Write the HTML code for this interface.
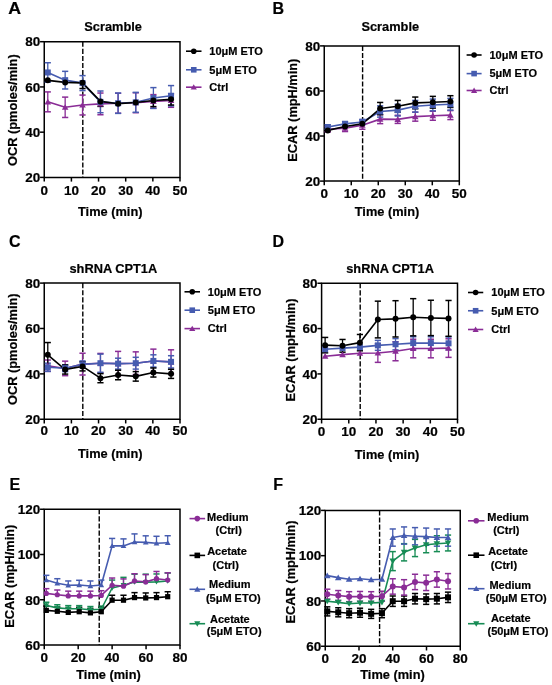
<!DOCTYPE html>
<html><head><meta charset="utf-8"><style>
html,body{margin:0;padding:0;background:#fff;width:552px;height:685px;overflow:hidden}
svg{display:block;position:absolute;left:0;top:0;will-change:transform}
text{font-family:"Liberation Sans", sans-serif;font-weight:bold;fill:#000;stroke:#000;stroke-width:0.2px}
</style></head><body>
<svg width="552" height="685" viewBox="0 0 552 685">
<rect width="552" height="685" fill="#fff"/>
<path d="M44.25,41.70H180.00V177.40H44.25Z" fill="none" stroke="#000000" stroke-width="1.5"/>
<line x1="40.05" y1="177.40" x2="44.25" y2="177.40" stroke="#000000" stroke-width="1.5" />
<text x="40.25" y="182.15" font-size="13.5" text-anchor="end" >20</text>
<line x1="40.05" y1="132.17" x2="44.25" y2="132.17" stroke="#000000" stroke-width="1.5" />
<text x="40.25" y="136.92" font-size="13.5" text-anchor="end" >40</text>
<line x1="40.05" y1="86.93" x2="44.25" y2="86.93" stroke="#000000" stroke-width="1.5" />
<text x="40.25" y="91.68" font-size="13.5" text-anchor="end" >60</text>
<line x1="40.05" y1="41.70" x2="44.25" y2="41.70" stroke="#000000" stroke-width="1.5" />
<text x="40.25" y="46.45" font-size="13.5" text-anchor="end" >80</text>
<line x1="44.25" y1="177.40" x2="44.25" y2="181.60" stroke="#000000" stroke-width="1.5" />
<text x="44.25" y="195.00" font-size="13.5" text-anchor="middle" >0</text>
<line x1="71.40" y1="177.40" x2="71.40" y2="181.60" stroke="#000000" stroke-width="1.5" />
<text x="71.40" y="195.00" font-size="13.5" text-anchor="middle" >10</text>
<line x1="98.55" y1="177.40" x2="98.55" y2="181.60" stroke="#000000" stroke-width="1.5" />
<text x="98.55" y="195.00" font-size="13.5" text-anchor="middle" >20</text>
<line x1="125.70" y1="177.40" x2="125.70" y2="181.60" stroke="#000000" stroke-width="1.5" />
<text x="125.70" y="195.00" font-size="13.5" text-anchor="middle" >30</text>
<line x1="152.85" y1="177.40" x2="152.85" y2="181.60" stroke="#000000" stroke-width="1.5" />
<text x="152.85" y="195.00" font-size="13.5" text-anchor="middle" >40</text>
<line x1="180.00" y1="177.40" x2="180.00" y2="181.60" stroke="#000000" stroke-width="1.5" />
<text x="180.00" y="195.00" font-size="13.5" text-anchor="middle" >50</text>
<line x1="82.80" y1="41.70" x2="82.80" y2="177.40" stroke="#000000" stroke-width="1.4" stroke-dasharray="5.1 2.0"/>
<line x1="47.78" y1="91.91" x2="47.78" y2="111.81" stroke="#8a2c96" stroke-width="1.3" />
<line x1="44.68" y1="91.91" x2="50.88" y2="91.91" stroke="#8a2c96" stroke-width="1.5" />
<line x1="44.68" y1="111.81" x2="50.88" y2="111.81" stroke="#8a2c96" stroke-width="1.5" />
<line x1="65.16" y1="97.11" x2="65.16" y2="117.47" stroke="#8a2c96" stroke-width="1.3" />
<line x1="62.06" y1="97.11" x2="68.26" y2="97.11" stroke="#8a2c96" stroke-width="1.5" />
<line x1="62.06" y1="117.47" x2="68.26" y2="117.47" stroke="#8a2c96" stroke-width="1.5" />
<line x1="82.53" y1="95.08" x2="82.53" y2="114.98" stroke="#8a2c96" stroke-width="1.3" />
<line x1="79.43" y1="95.08" x2="85.63" y2="95.08" stroke="#8a2c96" stroke-width="1.5" />
<line x1="79.43" y1="114.98" x2="85.63" y2="114.98" stroke="#8a2c96" stroke-width="1.5" />
<line x1="100.45" y1="93.04" x2="100.45" y2="114.75" stroke="#8a2c96" stroke-width="1.3" />
<line x1="97.35" y1="93.04" x2="103.55" y2="93.04" stroke="#8a2c96" stroke-width="1.5" />
<line x1="97.35" y1="114.75" x2="103.55" y2="114.75" stroke="#8a2c96" stroke-width="1.5" />
<line x1="118.10" y1="93.27" x2="118.10" y2="113.17" stroke="#8a2c96" stroke-width="1.3" />
<line x1="115.00" y1="93.27" x2="121.20" y2="93.27" stroke="#8a2c96" stroke-width="1.5" />
<line x1="115.00" y1="113.17" x2="121.20" y2="113.17" stroke="#8a2c96" stroke-width="1.5" />
<line x1="135.75" y1="92.81" x2="135.75" y2="112.72" stroke="#8a2c96" stroke-width="1.3" />
<line x1="132.65" y1="92.81" x2="138.85" y2="92.81" stroke="#8a2c96" stroke-width="1.5" />
<line x1="132.65" y1="112.72" x2="138.85" y2="112.72" stroke="#8a2c96" stroke-width="1.5" />
<line x1="153.39" y1="94.62" x2="153.39" y2="108.19" stroke="#8a2c96" stroke-width="1.3" />
<line x1="150.29" y1="94.62" x2="156.49" y2="94.62" stroke="#8a2c96" stroke-width="1.5" />
<line x1="150.29" y1="108.19" x2="156.49" y2="108.19" stroke="#8a2c96" stroke-width="1.5" />
<line x1="171.04" y1="93.72" x2="171.04" y2="107.29" stroke="#8a2c96" stroke-width="1.3" />
<line x1="167.94" y1="93.72" x2="174.14" y2="93.72" stroke="#8a2c96" stroke-width="1.5" />
<line x1="167.94" y1="107.29" x2="174.14" y2="107.29" stroke="#8a2c96" stroke-width="1.5" />
<line x1="47.78" y1="62.73" x2="47.78" y2="82.18" stroke="#465cb0" stroke-width="1.3" />
<line x1="44.68" y1="62.73" x2="50.88" y2="62.73" stroke="#465cb0" stroke-width="1.5" />
<line x1="44.68" y1="82.18" x2="50.88" y2="82.18" stroke="#465cb0" stroke-width="1.5" />
<line x1="65.16" y1="71.33" x2="65.16" y2="88.97" stroke="#465cb0" stroke-width="1.3" />
<line x1="62.06" y1="71.33" x2="68.26" y2="71.33" stroke="#465cb0" stroke-width="1.5" />
<line x1="62.06" y1="88.97" x2="68.26" y2="88.97" stroke="#465cb0" stroke-width="1.5" />
<line x1="82.53" y1="75.63" x2="82.53" y2="90.55" stroke="#465cb0" stroke-width="1.3" />
<line x1="79.43" y1="75.63" x2="85.63" y2="75.63" stroke="#465cb0" stroke-width="1.5" />
<line x1="79.43" y1="90.55" x2="85.63" y2="90.55" stroke="#465cb0" stroke-width="1.5" />
<line x1="100.45" y1="91.00" x2="100.45" y2="112.72" stroke="#465cb0" stroke-width="1.3" />
<line x1="97.35" y1="91.00" x2="103.55" y2="91.00" stroke="#465cb0" stroke-width="1.5" />
<line x1="97.35" y1="112.72" x2="103.55" y2="112.72" stroke="#465cb0" stroke-width="1.5" />
<line x1="118.10" y1="93.04" x2="118.10" y2="113.39" stroke="#465cb0" stroke-width="1.3" />
<line x1="115.00" y1="93.04" x2="121.20" y2="93.04" stroke="#465cb0" stroke-width="1.5" />
<line x1="115.00" y1="113.39" x2="121.20" y2="113.39" stroke="#465cb0" stroke-width="1.5" />
<line x1="135.75" y1="92.36" x2="135.75" y2="112.26" stroke="#465cb0" stroke-width="1.3" />
<line x1="132.65" y1="92.36" x2="138.85" y2="92.36" stroke="#465cb0" stroke-width="1.5" />
<line x1="132.65" y1="112.26" x2="138.85" y2="112.26" stroke="#465cb0" stroke-width="1.5" />
<line x1="153.39" y1="87.61" x2="153.39" y2="108.42" stroke="#465cb0" stroke-width="1.3" />
<line x1="150.29" y1="87.61" x2="156.49" y2="87.61" stroke="#465cb0" stroke-width="1.5" />
<line x1="150.29" y1="108.42" x2="156.49" y2="108.42" stroke="#465cb0" stroke-width="1.5" />
<line x1="171.04" y1="85.58" x2="171.04" y2="105.93" stroke="#465cb0" stroke-width="1.3" />
<line x1="167.94" y1="85.58" x2="174.14" y2="85.58" stroke="#465cb0" stroke-width="1.5" />
<line x1="167.94" y1="105.93" x2="174.14" y2="105.93" stroke="#465cb0" stroke-width="1.5" />
<line x1="82.53" y1="82.86" x2="82.53" y2="88.52" stroke="#000000" stroke-width="1.3" />
<line x1="79.43" y1="88.52" x2="85.63" y2="88.52" stroke="#000000" stroke-width="1.5" />
<line x1="100.45" y1="101.41" x2="100.45" y2="106.38" stroke="#000000" stroke-width="1.3" />
<line x1="97.35" y1="106.38" x2="103.55" y2="106.38" stroke="#000000" stroke-width="1.5" />
<line x1="153.39" y1="100.50" x2="153.39" y2="106.61" stroke="#000000" stroke-width="1.3" />
<line x1="150.29" y1="106.61" x2="156.49" y2="106.61" stroke="#000000" stroke-width="1.5" />
<line x1="171.04" y1="99.37" x2="171.04" y2="105.03" stroke="#000000" stroke-width="1.3" />
<line x1="167.94" y1="105.03" x2="174.14" y2="105.03" stroke="#000000" stroke-width="1.5" />
<path d="M47.78,101.86 L65.16,107.29 L82.53,105.03 L100.45,103.90 L118.10,103.22 L135.75,102.77 L153.39,101.41 L171.04,100.50" fill="none" stroke="#8a2c96" stroke-width="1.6" stroke-linejoin="round"/>
<path d="M47.78,72.46 L65.16,80.15 L82.53,83.09 L100.45,101.86 L118.10,103.22 L135.75,102.31 L153.39,98.02 L171.04,95.75" fill="none" stroke="#465cb0" stroke-width="1.6" stroke-linejoin="round"/>
<path d="M47.78,80.37 L65.16,82.41 L82.53,82.86 L100.45,101.41 L118.10,103.67 L135.75,102.54 L153.39,100.50 L171.04,99.37" fill="none" stroke="#000000" stroke-width="1.6" stroke-linejoin="round"/>
<path d="M47.78,98.71L51.08,104.41L44.48,104.41Z" fill="#8a2c96"/>
<path d="M65.16,104.14L68.46,109.84L61.86,109.84Z" fill="#8a2c96"/>
<path d="M82.53,101.88L85.83,107.58L79.23,107.58Z" fill="#8a2c96"/>
<path d="M100.45,100.75L103.75,106.45L97.15,106.45Z" fill="#8a2c96"/>
<path d="M118.10,100.07L121.40,105.77L114.80,105.77Z" fill="#8a2c96"/>
<path d="M135.75,99.61L139.05,105.31L132.45,105.31Z" fill="#8a2c96"/>
<path d="M153.39,98.26L156.69,103.96L150.09,103.96Z" fill="#8a2c96"/>
<path d="M171.04,97.35L174.34,103.05L167.74,103.05Z" fill="#8a2c96"/>
<rect x="44.78" y="69.46" width="6.00" height="6.00" fill="#465cb0"/>
<rect x="62.16" y="77.15" width="6.00" height="6.00" fill="#465cb0"/>
<rect x="79.53" y="80.09" width="6.00" height="6.00" fill="#465cb0"/>
<rect x="97.45" y="98.86" width="6.00" height="6.00" fill="#465cb0"/>
<rect x="115.10" y="100.22" width="6.00" height="6.00" fill="#465cb0"/>
<rect x="132.75" y="99.31" width="6.00" height="6.00" fill="#465cb0"/>
<rect x="150.39" y="95.02" width="6.00" height="6.00" fill="#465cb0"/>
<rect x="168.04" y="92.75" width="6.00" height="6.00" fill="#465cb0"/>
<circle cx="47.78" cy="80.37" r="3.00" fill="#000000"/>
<circle cx="65.16" cy="82.41" r="3.00" fill="#000000"/>
<circle cx="82.53" cy="82.86" r="3.00" fill="#000000"/>
<circle cx="100.45" cy="101.41" r="3.00" fill="#000000"/>
<circle cx="118.10" cy="103.67" r="3.00" fill="#000000"/>
<circle cx="135.75" cy="102.54" r="3.00" fill="#000000"/>
<circle cx="153.39" cy="100.50" r="3.00" fill="#000000"/>
<circle cx="171.04" cy="99.37" r="3.00" fill="#000000"/>
<text x="113.10" y="30.50" font-size="12.8" text-anchor="middle" >Scramble</text>
<text transform="translate(17.30,110.15) rotate(-90)" font-size="12.8" text-anchor="middle">OCR (pmoles/min)</text>
<text x="110.25" y="216.25" font-size="12.8" text-anchor="middle" >Time (min)</text>
<text transform="translate(8.20,13.75) scale(1.11,1)" font-size="16">A</text>
<line x1="186.00" y1="51.20" x2="201.50" y2="51.20" stroke="#000000" stroke-width="1.6" />
<circle cx="193.75" cy="51.20" r="2.80" fill="#000000"/>
<text x="209.30" y="55.00" font-size="11" text-anchor="start" >10&#956;M ETO</text>
<line x1="186.00" y1="69.80" x2="201.50" y2="69.80" stroke="#465cb0" stroke-width="1.6" />
<rect x="190.95" y="67.00" width="5.60" height="5.60" fill="#465cb0"/>
<text x="209.30" y="73.60" font-size="11" text-anchor="start" >5&#956;M ETO</text>
<line x1="186.00" y1="87.20" x2="201.50" y2="87.20" stroke="#8a2c96" stroke-width="1.6" />
<path d="M193.75,84.26L196.83,89.58L190.67,89.58Z" fill="#8a2c96"/>
<text x="209.30" y="91.00" font-size="11" text-anchor="start" >Ctrl</text>
<path d="M324.25,45.90H459.30V181.10H324.25Z" fill="none" stroke="#000000" stroke-width="1.5"/>
<line x1="320.05" y1="181.10" x2="324.25" y2="181.10" stroke="#000000" stroke-width="1.5" />
<text x="320.25" y="185.85" font-size="13.5" text-anchor="end" >20</text>
<line x1="320.05" y1="136.03" x2="324.25" y2="136.03" stroke="#000000" stroke-width="1.5" />
<text x="320.25" y="140.78" font-size="13.5" text-anchor="end" >40</text>
<line x1="320.05" y1="90.97" x2="324.25" y2="90.97" stroke="#000000" stroke-width="1.5" />
<text x="320.25" y="95.72" font-size="13.5" text-anchor="end" >60</text>
<line x1="320.05" y1="45.90" x2="324.25" y2="45.90" stroke="#000000" stroke-width="1.5" />
<text x="320.25" y="50.65" font-size="13.5" text-anchor="end" >80</text>
<line x1="324.25" y1="181.10" x2="324.25" y2="185.30" stroke="#000000" stroke-width="1.5" />
<text x="324.25" y="198.30" font-size="13.5" text-anchor="middle" >0</text>
<line x1="351.26" y1="181.10" x2="351.26" y2="185.30" stroke="#000000" stroke-width="1.5" />
<text x="351.26" y="198.30" font-size="13.5" text-anchor="middle" >10</text>
<line x1="378.27" y1="181.10" x2="378.27" y2="185.30" stroke="#000000" stroke-width="1.5" />
<text x="378.27" y="198.30" font-size="13.5" text-anchor="middle" >20</text>
<line x1="405.28" y1="181.10" x2="405.28" y2="185.30" stroke="#000000" stroke-width="1.5" />
<text x="405.28" y="198.30" font-size="13.5" text-anchor="middle" >30</text>
<line x1="432.29" y1="181.10" x2="432.29" y2="185.30" stroke="#000000" stroke-width="1.5" />
<text x="432.29" y="198.30" font-size="13.5" text-anchor="middle" >40</text>
<line x1="459.30" y1="181.10" x2="459.30" y2="185.30" stroke="#000000" stroke-width="1.5" />
<text x="459.30" y="198.30" font-size="13.5" text-anchor="middle" >50</text>
<line x1="362.60" y1="45.90" x2="362.60" y2="181.10" stroke="#000000" stroke-width="1.4" stroke-dasharray="5.1 2.0"/>
<line x1="327.76" y1="126.57" x2="327.76" y2="131.98" stroke="#8a2c96" stroke-width="1.3" />
<line x1="324.66" y1="126.57" x2="330.86" y2="126.57" stroke="#8a2c96" stroke-width="1.5" />
<line x1="324.66" y1="131.98" x2="330.86" y2="131.98" stroke="#8a2c96" stroke-width="1.5" />
<line x1="345.05" y1="124.77" x2="345.05" y2="131.53" stroke="#8a2c96" stroke-width="1.3" />
<line x1="341.95" y1="124.77" x2="348.15" y2="124.77" stroke="#8a2c96" stroke-width="1.5" />
<line x1="341.95" y1="131.53" x2="348.15" y2="131.53" stroke="#8a2c96" stroke-width="1.5" />
<line x1="362.33" y1="121.16" x2="362.33" y2="129.27" stroke="#8a2c96" stroke-width="1.3" />
<line x1="359.23" y1="121.16" x2="365.43" y2="121.16" stroke="#8a2c96" stroke-width="1.5" />
<line x1="359.23" y1="129.27" x2="365.43" y2="129.27" stroke="#8a2c96" stroke-width="1.5" />
<line x1="380.16" y1="114.63" x2="380.16" y2="123.64" stroke="#8a2c96" stroke-width="1.3" />
<line x1="377.06" y1="114.63" x2="383.26" y2="114.63" stroke="#8a2c96" stroke-width="1.5" />
<line x1="377.06" y1="123.64" x2="383.26" y2="123.64" stroke="#8a2c96" stroke-width="1.5" />
<line x1="397.72" y1="115.30" x2="397.72" y2="123.41" stroke="#8a2c96" stroke-width="1.3" />
<line x1="394.62" y1="115.30" x2="400.82" y2="115.30" stroke="#8a2c96" stroke-width="1.5" />
<line x1="394.62" y1="123.41" x2="400.82" y2="123.41" stroke="#8a2c96" stroke-width="1.5" />
<line x1="415.27" y1="112.15" x2="415.27" y2="121.16" stroke="#8a2c96" stroke-width="1.3" />
<line x1="412.17" y1="112.15" x2="418.37" y2="112.15" stroke="#8a2c96" stroke-width="1.5" />
<line x1="412.17" y1="121.16" x2="418.37" y2="121.16" stroke="#8a2c96" stroke-width="1.5" />
<line x1="432.83" y1="111.25" x2="432.83" y2="120.26" stroke="#8a2c96" stroke-width="1.3" />
<line x1="429.73" y1="111.25" x2="435.93" y2="111.25" stroke="#8a2c96" stroke-width="1.5" />
<line x1="429.73" y1="120.26" x2="435.93" y2="120.26" stroke="#8a2c96" stroke-width="1.5" />
<line x1="450.39" y1="110.57" x2="450.39" y2="119.58" stroke="#8a2c96" stroke-width="1.3" />
<line x1="447.29" y1="110.57" x2="453.49" y2="110.57" stroke="#8a2c96" stroke-width="1.5" />
<line x1="447.29" y1="119.58" x2="453.49" y2="119.58" stroke="#8a2c96" stroke-width="1.5" />
<line x1="327.76" y1="124.77" x2="327.76" y2="129.27" stroke="#465cb0" stroke-width="1.3" />
<line x1="324.66" y1="124.77" x2="330.86" y2="124.77" stroke="#465cb0" stroke-width="1.5" />
<line x1="324.66" y1="129.27" x2="330.86" y2="129.27" stroke="#465cb0" stroke-width="1.5" />
<line x1="345.05" y1="121.61" x2="345.05" y2="126.12" stroke="#465cb0" stroke-width="1.3" />
<line x1="341.95" y1="121.61" x2="348.15" y2="121.61" stroke="#465cb0" stroke-width="1.5" />
<line x1="341.95" y1="126.12" x2="348.15" y2="126.12" stroke="#465cb0" stroke-width="1.5" />
<line x1="362.33" y1="119.36" x2="362.33" y2="124.77" stroke="#465cb0" stroke-width="1.3" />
<line x1="359.23" y1="119.36" x2="365.43" y2="119.36" stroke="#465cb0" stroke-width="1.5" />
<line x1="359.23" y1="124.77" x2="365.43" y2="124.77" stroke="#465cb0" stroke-width="1.5" />
<line x1="380.16" y1="105.84" x2="380.16" y2="117.11" stroke="#465cb0" stroke-width="1.3" />
<line x1="377.06" y1="105.84" x2="383.26" y2="105.84" stroke="#465cb0" stroke-width="1.5" />
<line x1="377.06" y1="117.11" x2="383.26" y2="117.11" stroke="#465cb0" stroke-width="1.5" />
<line x1="397.72" y1="104.26" x2="397.72" y2="115.98" stroke="#465cb0" stroke-width="1.3" />
<line x1="394.62" y1="104.26" x2="400.82" y2="104.26" stroke="#465cb0" stroke-width="1.5" />
<line x1="394.62" y1="115.98" x2="400.82" y2="115.98" stroke="#465cb0" stroke-width="1.5" />
<line x1="415.27" y1="100.43" x2="415.27" y2="112.15" stroke="#465cb0" stroke-width="1.3" />
<line x1="412.17" y1="100.43" x2="418.37" y2="100.43" stroke="#465cb0" stroke-width="1.5" />
<line x1="412.17" y1="112.15" x2="418.37" y2="112.15" stroke="#465cb0" stroke-width="1.5" />
<line x1="432.83" y1="99.08" x2="432.83" y2="110.80" stroke="#465cb0" stroke-width="1.3" />
<line x1="429.73" y1="99.08" x2="435.93" y2="99.08" stroke="#465cb0" stroke-width="1.5" />
<line x1="429.73" y1="110.80" x2="435.93" y2="110.80" stroke="#465cb0" stroke-width="1.5" />
<line x1="450.39" y1="98.40" x2="450.39" y2="110.12" stroke="#465cb0" stroke-width="1.3" />
<line x1="447.29" y1="98.40" x2="453.49" y2="98.40" stroke="#465cb0" stroke-width="1.5" />
<line x1="447.29" y1="110.12" x2="453.49" y2="110.12" stroke="#465cb0" stroke-width="1.5" />
<line x1="380.16" y1="102.46" x2="380.16" y2="114.63" stroke="#000000" stroke-width="1.3" />
<line x1="377.06" y1="102.46" x2="383.26" y2="102.46" stroke="#000000" stroke-width="1.5" />
<line x1="377.06" y1="114.63" x2="383.26" y2="114.63" stroke="#000000" stroke-width="1.5" />
<line x1="397.72" y1="100.43" x2="397.72" y2="112.15" stroke="#000000" stroke-width="1.3" />
<line x1="394.62" y1="100.43" x2="400.82" y2="100.43" stroke="#000000" stroke-width="1.5" />
<line x1="394.62" y1="112.15" x2="400.82" y2="112.15" stroke="#000000" stroke-width="1.5" />
<line x1="415.27" y1="97.05" x2="415.27" y2="108.77" stroke="#000000" stroke-width="1.3" />
<line x1="412.17" y1="97.05" x2="418.37" y2="97.05" stroke="#000000" stroke-width="1.5" />
<line x1="412.17" y1="108.77" x2="418.37" y2="108.77" stroke="#000000" stroke-width="1.5" />
<line x1="432.83" y1="96.37" x2="432.83" y2="108.09" stroke="#000000" stroke-width="1.3" />
<line x1="429.73" y1="96.37" x2="435.93" y2="96.37" stroke="#000000" stroke-width="1.5" />
<line x1="429.73" y1="108.09" x2="435.93" y2="108.09" stroke="#000000" stroke-width="1.5" />
<line x1="450.39" y1="95.70" x2="450.39" y2="107.42" stroke="#000000" stroke-width="1.3" />
<line x1="447.29" y1="95.70" x2="453.49" y2="95.70" stroke="#000000" stroke-width="1.5" />
<line x1="447.29" y1="107.42" x2="453.49" y2="107.42" stroke="#000000" stroke-width="1.5" />
<path d="M327.76,129.27 L345.05,128.15 L362.33,125.22 L380.16,119.13 L397.72,119.36 L415.27,116.65 L432.83,115.75 L450.39,115.08" fill="none" stroke="#8a2c96" stroke-width="1.6" stroke-linejoin="round"/>
<path d="M327.76,127.02 L345.05,123.87 L362.33,122.06 L380.16,111.47 L397.72,110.12 L415.27,106.29 L432.83,104.94 L450.39,104.26" fill="none" stroke="#465cb0" stroke-width="1.6" stroke-linejoin="round"/>
<path d="M327.76,130.40 L345.05,126.57 L362.33,123.87 L380.16,108.54 L397.72,106.29 L415.27,102.91 L432.83,102.23 L450.39,101.56" fill="none" stroke="#000000" stroke-width="1.6" stroke-linejoin="round"/>
<path d="M327.76,126.12L331.06,131.82L324.46,131.82Z" fill="#8a2c96"/>
<path d="M345.05,125.00L348.35,130.70L341.75,130.70Z" fill="#8a2c96"/>
<path d="M362.33,122.07L365.63,127.77L359.03,127.77Z" fill="#8a2c96"/>
<path d="M380.16,115.98L383.46,121.68L376.86,121.68Z" fill="#8a2c96"/>
<path d="M397.72,116.21L401.02,121.91L394.42,121.91Z" fill="#8a2c96"/>
<path d="M415.27,113.50L418.57,119.20L411.97,119.20Z" fill="#8a2c96"/>
<path d="M432.83,112.60L436.13,118.30L429.53,118.30Z" fill="#8a2c96"/>
<path d="M450.39,111.93L453.69,117.63L447.09,117.63Z" fill="#8a2c96"/>
<rect x="324.76" y="124.02" width="6.00" height="6.00" fill="#465cb0"/>
<rect x="342.05" y="120.87" width="6.00" height="6.00" fill="#465cb0"/>
<rect x="359.33" y="119.06" width="6.00" height="6.00" fill="#465cb0"/>
<rect x="377.16" y="108.47" width="6.00" height="6.00" fill="#465cb0"/>
<rect x="394.72" y="107.12" width="6.00" height="6.00" fill="#465cb0"/>
<rect x="412.27" y="103.29" width="6.00" height="6.00" fill="#465cb0"/>
<rect x="429.83" y="101.94" width="6.00" height="6.00" fill="#465cb0"/>
<rect x="447.39" y="101.26" width="6.00" height="6.00" fill="#465cb0"/>
<circle cx="327.76" cy="130.40" r="3.00" fill="#000000"/>
<circle cx="345.05" cy="126.57" r="3.00" fill="#000000"/>
<circle cx="362.33" cy="123.87" r="3.00" fill="#000000"/>
<circle cx="380.16" cy="108.54" r="3.00" fill="#000000"/>
<circle cx="397.72" cy="106.29" r="3.00" fill="#000000"/>
<circle cx="415.27" cy="102.91" r="3.00" fill="#000000"/>
<circle cx="432.83" cy="102.23" r="3.00" fill="#000000"/>
<circle cx="450.39" cy="101.56" r="3.00" fill="#000000"/>
<text x="390.25" y="30.50" font-size="12.8" text-anchor="middle" >Scramble</text>
<text transform="translate(297.40,110.15) rotate(-90)" font-size="12.8" text-anchor="middle">ECAR (mpH/min)</text>
<text x="387.00" y="216.25" font-size="12.8" text-anchor="middle" >Time (min)</text>
<text x="272.50" y="13.75" font-size="16" text-anchor="start" >B</text>
<line x1="466.60" y1="55.00" x2="481.60" y2="55.00" stroke="#000000" stroke-width="1.6" />
<circle cx="474.10" cy="55.00" r="2.80" fill="#000000"/>
<text x="489.50" y="58.80" font-size="11" text-anchor="start" >10&#956;M ETO</text>
<line x1="466.60" y1="73.60" x2="481.60" y2="73.60" stroke="#465cb0" stroke-width="1.6" />
<rect x="471.30" y="70.80" width="5.60" height="5.60" fill="#465cb0"/>
<text x="489.50" y="77.40" font-size="11" text-anchor="start" >5&#956;M ETO</text>
<line x1="466.60" y1="90.50" x2="481.60" y2="90.50" stroke="#8a2c96" stroke-width="1.6" />
<path d="M474.10,87.56L477.18,92.88L471.02,92.88Z" fill="#8a2c96"/>
<text x="489.50" y="94.30" font-size="11" text-anchor="start" >Ctrl</text>
<path d="M44.25,283.10H180.00V419.25H44.25Z" fill="none" stroke="#000000" stroke-width="1.5"/>
<line x1="40.05" y1="419.25" x2="44.25" y2="419.25" stroke="#000000" stroke-width="1.5" />
<text x="40.25" y="424.00" font-size="13.5" text-anchor="end" >20</text>
<line x1="40.05" y1="373.87" x2="44.25" y2="373.87" stroke="#000000" stroke-width="1.5" />
<text x="40.25" y="378.62" font-size="13.5" text-anchor="end" >40</text>
<line x1="40.05" y1="328.48" x2="44.25" y2="328.48" stroke="#000000" stroke-width="1.5" />
<text x="40.25" y="333.23" font-size="13.5" text-anchor="end" >60</text>
<line x1="40.05" y1="283.10" x2="44.25" y2="283.10" stroke="#000000" stroke-width="1.5" />
<text x="40.25" y="287.85" font-size="13.5" text-anchor="end" >80</text>
<line x1="44.25" y1="419.25" x2="44.25" y2="423.45" stroke="#000000" stroke-width="1.5" />
<text x="44.25" y="435.00" font-size="13.5" text-anchor="middle" >0</text>
<line x1="71.40" y1="419.25" x2="71.40" y2="423.45" stroke="#000000" stroke-width="1.5" />
<text x="71.40" y="435.00" font-size="13.5" text-anchor="middle" >10</text>
<line x1="98.55" y1="419.25" x2="98.55" y2="423.45" stroke="#000000" stroke-width="1.5" />
<text x="98.55" y="435.00" font-size="13.5" text-anchor="middle" >20</text>
<line x1="125.70" y1="419.25" x2="125.70" y2="423.45" stroke="#000000" stroke-width="1.5" />
<text x="125.70" y="435.00" font-size="13.5" text-anchor="middle" >30</text>
<line x1="152.85" y1="419.25" x2="152.85" y2="423.45" stroke="#000000" stroke-width="1.5" />
<text x="152.85" y="435.00" font-size="13.5" text-anchor="middle" >40</text>
<line x1="180.00" y1="419.25" x2="180.00" y2="423.45" stroke="#000000" stroke-width="1.5" />
<text x="180.00" y="435.00" font-size="13.5" text-anchor="middle" >50</text>
<line x1="82.80" y1="283.10" x2="82.80" y2="419.25" stroke="#000000" stroke-width="1.4" stroke-dasharray="5.1 2.0"/>
<line x1="47.78" y1="360.02" x2="47.78" y2="371.37" stroke="#8a2c96" stroke-width="1.3" />
<line x1="44.68" y1="360.02" x2="50.88" y2="360.02" stroke="#8a2c96" stroke-width="1.5" />
<line x1="44.68" y1="371.37" x2="50.88" y2="371.37" stroke="#8a2c96" stroke-width="1.5" />
<line x1="65.16" y1="361.16" x2="65.16" y2="375.68" stroke="#8a2c96" stroke-width="1.3" />
<line x1="62.06" y1="361.16" x2="68.26" y2="361.16" stroke="#8a2c96" stroke-width="1.5" />
<line x1="62.06" y1="375.68" x2="68.26" y2="375.68" stroke="#8a2c96" stroke-width="1.5" />
<line x1="82.53" y1="353.22" x2="82.53" y2="375.00" stroke="#8a2c96" stroke-width="1.3" />
<line x1="79.43" y1="353.22" x2="85.63" y2="353.22" stroke="#8a2c96" stroke-width="1.5" />
<line x1="79.43" y1="375.00" x2="85.63" y2="375.00" stroke="#8a2c96" stroke-width="1.5" />
<line x1="100.45" y1="353.44" x2="100.45" y2="372.96" stroke="#8a2c96" stroke-width="1.3" />
<line x1="97.35" y1="353.44" x2="103.55" y2="353.44" stroke="#8a2c96" stroke-width="1.5" />
<line x1="97.35" y1="372.96" x2="103.55" y2="372.96" stroke="#8a2c96" stroke-width="1.5" />
<line x1="118.10" y1="351.40" x2="118.10" y2="375.91" stroke="#8a2c96" stroke-width="1.3" />
<line x1="115.00" y1="351.40" x2="121.20" y2="351.40" stroke="#8a2c96" stroke-width="1.5" />
<line x1="115.00" y1="375.91" x2="121.20" y2="375.91" stroke="#8a2c96" stroke-width="1.5" />
<line x1="135.75" y1="351.86" x2="135.75" y2="374.55" stroke="#8a2c96" stroke-width="1.3" />
<line x1="132.65" y1="351.86" x2="138.85" y2="351.86" stroke="#8a2c96" stroke-width="1.5" />
<line x1="132.65" y1="374.55" x2="138.85" y2="374.55" stroke="#8a2c96" stroke-width="1.5" />
<line x1="153.39" y1="349.13" x2="153.39" y2="372.73" stroke="#8a2c96" stroke-width="1.3" />
<line x1="150.29" y1="349.13" x2="156.49" y2="349.13" stroke="#8a2c96" stroke-width="1.5" />
<line x1="150.29" y1="372.73" x2="156.49" y2="372.73" stroke="#8a2c96" stroke-width="1.5" />
<line x1="171.04" y1="349.81" x2="171.04" y2="373.87" stroke="#8a2c96" stroke-width="1.3" />
<line x1="167.94" y1="349.81" x2="174.14" y2="349.81" stroke="#8a2c96" stroke-width="1.5" />
<line x1="167.94" y1="373.87" x2="174.14" y2="373.87" stroke="#8a2c96" stroke-width="1.5" />
<line x1="47.78" y1="363.20" x2="47.78" y2="371.37" stroke="#465cb0" stroke-width="1.3" />
<line x1="44.68" y1="363.20" x2="50.88" y2="363.20" stroke="#465cb0" stroke-width="1.5" />
<line x1="44.68" y1="371.37" x2="50.88" y2="371.37" stroke="#465cb0" stroke-width="1.5" />
<line x1="65.16" y1="364.79" x2="65.16" y2="371.60" stroke="#465cb0" stroke-width="1.3" />
<line x1="62.06" y1="364.79" x2="68.26" y2="364.79" stroke="#465cb0" stroke-width="1.5" />
<line x1="62.06" y1="371.60" x2="68.26" y2="371.60" stroke="#465cb0" stroke-width="1.5" />
<line x1="82.53" y1="360.93" x2="82.53" y2="367.74" stroke="#465cb0" stroke-width="1.3" />
<line x1="79.43" y1="360.93" x2="85.63" y2="360.93" stroke="#465cb0" stroke-width="1.5" />
<line x1="79.43" y1="367.74" x2="85.63" y2="367.74" stroke="#465cb0" stroke-width="1.5" />
<line x1="100.45" y1="354.12" x2="100.45" y2="372.28" stroke="#465cb0" stroke-width="1.3" />
<line x1="97.35" y1="354.12" x2="103.55" y2="354.12" stroke="#465cb0" stroke-width="1.5" />
<line x1="97.35" y1="372.28" x2="103.55" y2="372.28" stroke="#465cb0" stroke-width="1.5" />
<line x1="118.10" y1="358.21" x2="118.10" y2="369.10" stroke="#465cb0" stroke-width="1.3" />
<line x1="115.00" y1="358.21" x2="121.20" y2="358.21" stroke="#465cb0" stroke-width="1.5" />
<line x1="115.00" y1="369.10" x2="121.20" y2="369.10" stroke="#465cb0" stroke-width="1.5" />
<line x1="135.75" y1="357.30" x2="135.75" y2="369.10" stroke="#465cb0" stroke-width="1.3" />
<line x1="132.65" y1="357.30" x2="138.85" y2="357.30" stroke="#465cb0" stroke-width="1.5" />
<line x1="132.65" y1="369.10" x2="138.85" y2="369.10" stroke="#465cb0" stroke-width="1.5" />
<line x1="153.39" y1="354.81" x2="153.39" y2="367.06" stroke="#465cb0" stroke-width="1.3" />
<line x1="150.29" y1="354.81" x2="156.49" y2="354.81" stroke="#465cb0" stroke-width="1.5" />
<line x1="150.29" y1="367.06" x2="156.49" y2="367.06" stroke="#465cb0" stroke-width="1.5" />
<line x1="171.04" y1="355.71" x2="171.04" y2="367.97" stroke="#465cb0" stroke-width="1.3" />
<line x1="167.94" y1="355.71" x2="174.14" y2="355.71" stroke="#465cb0" stroke-width="1.5" />
<line x1="167.94" y1="367.97" x2="174.14" y2="367.97" stroke="#465cb0" stroke-width="1.5" />
<line x1="47.78" y1="342.55" x2="47.78" y2="367.06" stroke="#000000" stroke-width="1.3" />
<line x1="44.68" y1="342.55" x2="50.88" y2="342.55" stroke="#000000" stroke-width="1.5" />
<line x1="44.68" y1="367.06" x2="50.88" y2="367.06" stroke="#000000" stroke-width="1.5" />
<line x1="65.16" y1="365.02" x2="65.16" y2="374.09" stroke="#000000" stroke-width="1.3" />
<line x1="62.06" y1="365.02" x2="68.26" y2="365.02" stroke="#000000" stroke-width="1.5" />
<line x1="62.06" y1="374.09" x2="68.26" y2="374.09" stroke="#000000" stroke-width="1.5" />
<line x1="82.53" y1="361.84" x2="82.53" y2="370.92" stroke="#000000" stroke-width="1.3" />
<line x1="79.43" y1="361.84" x2="85.63" y2="361.84" stroke="#000000" stroke-width="1.5" />
<line x1="79.43" y1="370.92" x2="85.63" y2="370.92" stroke="#000000" stroke-width="1.5" />
<line x1="100.45" y1="373.64" x2="100.45" y2="382.72" stroke="#000000" stroke-width="1.3" />
<line x1="97.35" y1="373.64" x2="103.55" y2="373.64" stroke="#000000" stroke-width="1.5" />
<line x1="97.35" y1="382.72" x2="103.55" y2="382.72" stroke="#000000" stroke-width="1.5" />
<line x1="118.10" y1="370.24" x2="118.10" y2="379.77" stroke="#000000" stroke-width="1.3" />
<line x1="115.00" y1="370.24" x2="121.20" y2="370.24" stroke="#000000" stroke-width="1.5" />
<line x1="115.00" y1="379.77" x2="121.20" y2="379.77" stroke="#000000" stroke-width="1.5" />
<line x1="135.75" y1="371.60" x2="135.75" y2="381.13" stroke="#000000" stroke-width="1.3" />
<line x1="132.65" y1="371.60" x2="138.85" y2="371.60" stroke="#000000" stroke-width="1.5" />
<line x1="132.65" y1="381.13" x2="138.85" y2="381.13" stroke="#000000" stroke-width="1.5" />
<line x1="153.39" y1="367.97" x2="153.39" y2="377.04" stroke="#000000" stroke-width="1.3" />
<line x1="150.29" y1="367.97" x2="156.49" y2="367.97" stroke="#000000" stroke-width="1.5" />
<line x1="150.29" y1="377.04" x2="156.49" y2="377.04" stroke="#000000" stroke-width="1.5" />
<line x1="171.04" y1="369.33" x2="171.04" y2="378.41" stroke="#000000" stroke-width="1.3" />
<line x1="167.94" y1="369.33" x2="174.14" y2="369.33" stroke="#000000" stroke-width="1.5" />
<line x1="167.94" y1="378.41" x2="174.14" y2="378.41" stroke="#000000" stroke-width="1.5" />
<path d="M47.78,365.70 L65.16,368.42 L82.53,364.11 L100.45,363.20 L118.10,363.66 L135.75,363.20 L153.39,360.93 L171.04,361.84" fill="none" stroke="#8a2c96" stroke-width="1.6" stroke-linejoin="round"/>
<path d="M47.78,367.29 L65.16,368.19 L82.53,364.34 L100.45,363.20 L118.10,363.66 L135.75,363.20 L153.39,360.93 L171.04,361.84" fill="none" stroke="#465cb0" stroke-width="1.6" stroke-linejoin="round"/>
<path d="M47.78,354.81 L65.16,369.56 L82.53,366.38 L100.45,378.18 L118.10,375.00 L135.75,376.36 L153.39,372.51 L171.04,373.87" fill="none" stroke="#000000" stroke-width="1.6" stroke-linejoin="round"/>
<path d="M47.78,362.55L51.08,368.25L44.48,368.25Z" fill="#8a2c96"/>
<path d="M65.16,365.27L68.46,370.97L61.86,370.97Z" fill="#8a2c96"/>
<path d="M82.53,360.96L85.83,366.66L79.23,366.66Z" fill="#8a2c96"/>
<path d="M100.45,360.05L103.75,365.75L97.15,365.75Z" fill="#8a2c96"/>
<path d="M118.10,360.51L121.40,366.21L114.80,366.21Z" fill="#8a2c96"/>
<path d="M135.75,360.05L139.05,365.75L132.45,365.75Z" fill="#8a2c96"/>
<path d="M153.39,357.78L156.69,363.48L150.09,363.48Z" fill="#8a2c96"/>
<path d="M171.04,358.69L174.34,364.39L167.74,364.39Z" fill="#8a2c96"/>
<rect x="44.78" y="364.29" width="6.00" height="6.00" fill="#465cb0"/>
<rect x="62.16" y="365.19" width="6.00" height="6.00" fill="#465cb0"/>
<rect x="79.53" y="361.34" width="6.00" height="6.00" fill="#465cb0"/>
<rect x="97.45" y="360.20" width="6.00" height="6.00" fill="#465cb0"/>
<rect x="115.10" y="360.66" width="6.00" height="6.00" fill="#465cb0"/>
<rect x="132.75" y="360.20" width="6.00" height="6.00" fill="#465cb0"/>
<rect x="150.39" y="357.93" width="6.00" height="6.00" fill="#465cb0"/>
<rect x="168.04" y="358.84" width="6.00" height="6.00" fill="#465cb0"/>
<circle cx="47.78" cy="354.81" r="3.00" fill="#000000"/>
<circle cx="65.16" cy="369.56" r="3.00" fill="#000000"/>
<circle cx="82.53" cy="366.38" r="3.00" fill="#000000"/>
<circle cx="100.45" cy="378.18" r="3.00" fill="#000000"/>
<circle cx="118.10" cy="375.00" r="3.00" fill="#000000"/>
<circle cx="135.75" cy="376.36" r="3.00" fill="#000000"/>
<circle cx="153.39" cy="372.51" r="3.00" fill="#000000"/>
<circle cx="171.04" cy="373.87" r="3.00" fill="#000000"/>
<text x="113.35" y="272.60" font-size="12.8" text-anchor="middle" >shRNA CPT1A</text>
<text transform="translate(17.40,349.25) rotate(-90)" font-size="12.8" text-anchor="middle">OCR (pmoles/min)</text>
<text x="110.25" y="458.25" font-size="12.8" text-anchor="middle" >Time (min)</text>
<text x="9.00" y="247.00" font-size="16" text-anchor="start" >C</text>
<line x1="184.50" y1="291.80" x2="200.00" y2="291.80" stroke="#000000" stroke-width="1.6" />
<circle cx="192.25" cy="291.80" r="2.80" fill="#000000"/>
<text x="207.80" y="295.60" font-size="11" text-anchor="start" >10&#956;M ETO</text>
<line x1="184.50" y1="310.20" x2="200.00" y2="310.20" stroke="#465cb0" stroke-width="1.6" />
<rect x="189.45" y="307.40" width="5.60" height="5.60" fill="#465cb0"/>
<text x="207.80" y="314.00" font-size="11" text-anchor="start" >5&#956;M ETO</text>
<line x1="184.50" y1="328.60" x2="200.00" y2="328.60" stroke="#8a2c96" stroke-width="1.6" />
<path d="M192.25,325.66L195.33,330.98L189.17,330.98Z" fill="#8a2c96"/>
<text x="207.80" y="332.40" font-size="11" text-anchor="start" >Ctrl</text>
<path d="M321.60,283.25H457.50V419.25H321.60Z" fill="none" stroke="#000000" stroke-width="1.5"/>
<line x1="317.40" y1="419.25" x2="321.60" y2="419.25" stroke="#000000" stroke-width="1.5" />
<text x="317.60" y="424.00" font-size="13.5" text-anchor="end" >20</text>
<line x1="317.40" y1="373.92" x2="321.60" y2="373.92" stroke="#000000" stroke-width="1.5" />
<text x="317.60" y="378.67" font-size="13.5" text-anchor="end" >40</text>
<line x1="317.40" y1="328.58" x2="321.60" y2="328.58" stroke="#000000" stroke-width="1.5" />
<text x="317.60" y="333.33" font-size="13.5" text-anchor="end" >60</text>
<line x1="317.40" y1="283.25" x2="321.60" y2="283.25" stroke="#000000" stroke-width="1.5" />
<text x="317.60" y="288.00" font-size="13.5" text-anchor="end" >80</text>
<line x1="321.60" y1="419.25" x2="321.60" y2="423.45" stroke="#000000" stroke-width="1.5" />
<text x="321.60" y="435.90" font-size="13.5" text-anchor="middle" >0</text>
<line x1="348.78" y1="419.25" x2="348.78" y2="423.45" stroke="#000000" stroke-width="1.5" />
<text x="348.78" y="435.90" font-size="13.5" text-anchor="middle" >10</text>
<line x1="375.96" y1="419.25" x2="375.96" y2="423.45" stroke="#000000" stroke-width="1.5" />
<text x="375.96" y="435.90" font-size="13.5" text-anchor="middle" >20</text>
<line x1="403.14" y1="419.25" x2="403.14" y2="423.45" stroke="#000000" stroke-width="1.5" />
<text x="403.14" y="435.90" font-size="13.5" text-anchor="middle" >30</text>
<line x1="430.32" y1="419.25" x2="430.32" y2="423.45" stroke="#000000" stroke-width="1.5" />
<text x="430.32" y="435.90" font-size="13.5" text-anchor="middle" >40</text>
<line x1="457.50" y1="419.25" x2="457.50" y2="423.45" stroke="#000000" stroke-width="1.5" />
<text x="457.50" y="435.90" font-size="13.5" text-anchor="middle" >50</text>
<line x1="360.20" y1="283.25" x2="360.20" y2="419.25" stroke="#000000" stroke-width="1.4" stroke-dasharray="5.1 2.0"/>
<line x1="377.86" y1="343.77" x2="377.86" y2="362.36" stroke="#8a2c96" stroke-width="1.3" />
<line x1="374.76" y1="343.77" x2="380.96" y2="343.77" stroke="#8a2c96" stroke-width="1.5" />
<line x1="374.76" y1="362.36" x2="380.96" y2="362.36" stroke="#8a2c96" stroke-width="1.5" />
<line x1="395.53" y1="341.73" x2="395.53" y2="360.77" stroke="#8a2c96" stroke-width="1.3" />
<line x1="392.43" y1="341.73" x2="398.63" y2="341.73" stroke="#8a2c96" stroke-width="1.5" />
<line x1="392.43" y1="360.77" x2="398.63" y2="360.77" stroke="#8a2c96" stroke-width="1.5" />
<line x1="413.20" y1="339.24" x2="413.20" y2="357.82" stroke="#8a2c96" stroke-width="1.3" />
<line x1="410.10" y1="339.24" x2="416.30" y2="339.24" stroke="#8a2c96" stroke-width="1.5" />
<line x1="410.10" y1="357.82" x2="416.30" y2="357.82" stroke="#8a2c96" stroke-width="1.5" />
<line x1="430.86" y1="339.24" x2="430.86" y2="357.82" stroke="#8a2c96" stroke-width="1.3" />
<line x1="427.76" y1="339.24" x2="433.96" y2="339.24" stroke="#8a2c96" stroke-width="1.5" />
<line x1="427.76" y1="357.82" x2="433.96" y2="357.82" stroke="#8a2c96" stroke-width="1.5" />
<line x1="448.53" y1="338.78" x2="448.53" y2="357.37" stroke="#8a2c96" stroke-width="1.3" />
<line x1="445.43" y1="338.78" x2="451.63" y2="338.78" stroke="#8a2c96" stroke-width="1.5" />
<line x1="445.43" y1="357.37" x2="451.63" y2="357.37" stroke="#8a2c96" stroke-width="1.5" />
<line x1="377.86" y1="340.37" x2="377.86" y2="350.34" stroke="#465cb0" stroke-width="1.3" />
<line x1="374.76" y1="340.37" x2="380.96" y2="340.37" stroke="#465cb0" stroke-width="1.5" />
<line x1="374.76" y1="350.34" x2="380.96" y2="350.34" stroke="#465cb0" stroke-width="1.5" />
<line x1="395.53" y1="338.56" x2="395.53" y2="349.89" stroke="#465cb0" stroke-width="1.3" />
<line x1="392.43" y1="338.56" x2="398.63" y2="338.56" stroke="#465cb0" stroke-width="1.5" />
<line x1="392.43" y1="349.89" x2="398.63" y2="349.89" stroke="#465cb0" stroke-width="1.5" />
<line x1="413.20" y1="336.74" x2="413.20" y2="349.44" stroke="#465cb0" stroke-width="1.3" />
<line x1="410.10" y1="336.74" x2="416.30" y2="336.74" stroke="#465cb0" stroke-width="1.5" />
<line x1="410.10" y1="349.44" x2="416.30" y2="349.44" stroke="#465cb0" stroke-width="1.5" />
<line x1="430.86" y1="336.74" x2="430.86" y2="349.44" stroke="#465cb0" stroke-width="1.3" />
<line x1="427.76" y1="336.74" x2="433.96" y2="336.74" stroke="#465cb0" stroke-width="1.5" />
<line x1="427.76" y1="349.44" x2="433.96" y2="349.44" stroke="#465cb0" stroke-width="1.5" />
<line x1="448.53" y1="336.97" x2="448.53" y2="349.66" stroke="#465cb0" stroke-width="1.3" />
<line x1="445.43" y1="336.97" x2="451.63" y2="336.97" stroke="#465cb0" stroke-width="1.5" />
<line x1="445.43" y1="349.66" x2="451.63" y2="349.66" stroke="#465cb0" stroke-width="1.5" />
<line x1="325.13" y1="337.42" x2="325.13" y2="352.84" stroke="#000000" stroke-width="1.3" />
<line x1="322.03" y1="337.42" x2="328.23" y2="337.42" stroke="#000000" stroke-width="1.5" />
<line x1="322.03" y1="352.84" x2="328.23" y2="352.84" stroke="#000000" stroke-width="1.5" />
<line x1="342.53" y1="339.46" x2="342.53" y2="352.16" stroke="#000000" stroke-width="1.3" />
<line x1="339.43" y1="339.46" x2="345.63" y2="339.46" stroke="#000000" stroke-width="1.5" />
<line x1="339.43" y1="352.16" x2="345.63" y2="352.16" stroke="#000000" stroke-width="1.5" />
<line x1="359.92" y1="334.48" x2="359.92" y2="350.80" stroke="#000000" stroke-width="1.3" />
<line x1="356.82" y1="334.48" x2="363.02" y2="334.48" stroke="#000000" stroke-width="1.5" />
<line x1="356.82" y1="350.80" x2="363.02" y2="350.80" stroke="#000000" stroke-width="1.5" />
<line x1="377.86" y1="301.16" x2="377.86" y2="337.88" stroke="#000000" stroke-width="1.3" />
<line x1="374.76" y1="301.16" x2="380.96" y2="301.16" stroke="#000000" stroke-width="1.5" />
<line x1="374.76" y1="337.88" x2="380.96" y2="337.88" stroke="#000000" stroke-width="1.5" />
<line x1="395.53" y1="300.70" x2="395.53" y2="336.97" stroke="#000000" stroke-width="1.3" />
<line x1="392.43" y1="300.70" x2="398.63" y2="300.70" stroke="#000000" stroke-width="1.5" />
<line x1="392.43" y1="336.97" x2="398.63" y2="336.97" stroke="#000000" stroke-width="1.5" />
<line x1="413.20" y1="298.66" x2="413.20" y2="335.84" stroke="#000000" stroke-width="1.3" />
<line x1="410.10" y1="298.66" x2="416.30" y2="298.66" stroke="#000000" stroke-width="1.5" />
<line x1="410.10" y1="335.84" x2="416.30" y2="335.84" stroke="#000000" stroke-width="1.5" />
<line x1="430.86" y1="300.25" x2="430.86" y2="335.61" stroke="#000000" stroke-width="1.3" />
<line x1="427.76" y1="300.25" x2="433.96" y2="300.25" stroke="#000000" stroke-width="1.5" />
<line x1="427.76" y1="335.61" x2="433.96" y2="335.61" stroke="#000000" stroke-width="1.5" />
<line x1="448.53" y1="300.48" x2="448.53" y2="336.29" stroke="#000000" stroke-width="1.3" />
<line x1="445.43" y1="300.48" x2="451.63" y2="300.48" stroke="#000000" stroke-width="1.5" />
<line x1="445.43" y1="336.29" x2="451.63" y2="336.29" stroke="#000000" stroke-width="1.5" />
<path d="M325.13,356.24 L342.53,354.65 L359.92,353.29 L377.86,353.06 L395.53,351.25 L413.20,348.53 L430.86,348.53 L448.53,348.08" fill="none" stroke="#8a2c96" stroke-width="1.6" stroke-linejoin="round"/>
<path d="M325.13,349.21 L342.53,348.08 L359.92,347.17 L377.86,345.36 L395.53,344.22 L413.20,343.09 L430.86,343.09 L448.53,343.32" fill="none" stroke="#465cb0" stroke-width="1.6" stroke-linejoin="round"/>
<path d="M325.13,345.13 L342.53,345.81 L359.92,342.64 L377.86,319.52 L395.53,318.84 L413.20,317.25 L430.86,317.93 L448.53,318.38" fill="none" stroke="#000000" stroke-width="1.6" stroke-linejoin="round"/>
<path d="M325.13,353.09L328.43,358.79L321.83,358.79Z" fill="#8a2c96"/>
<path d="M342.53,351.50L345.83,357.20L339.23,357.20Z" fill="#8a2c96"/>
<path d="M359.92,350.14L363.22,355.84L356.62,355.84Z" fill="#8a2c96"/>
<path d="M377.86,349.91L381.16,355.61L374.56,355.61Z" fill="#8a2c96"/>
<path d="M395.53,348.10L398.83,353.80L392.23,353.80Z" fill="#8a2c96"/>
<path d="M413.20,345.38L416.50,351.08L409.90,351.08Z" fill="#8a2c96"/>
<path d="M430.86,345.38L434.16,351.08L427.56,351.08Z" fill="#8a2c96"/>
<path d="M448.53,344.93L451.83,350.63L445.23,350.63Z" fill="#8a2c96"/>
<rect x="322.13" y="346.21" width="6.00" height="6.00" fill="#465cb0"/>
<rect x="339.53" y="345.08" width="6.00" height="6.00" fill="#465cb0"/>
<rect x="356.92" y="344.17" width="6.00" height="6.00" fill="#465cb0"/>
<rect x="374.86" y="342.36" width="6.00" height="6.00" fill="#465cb0"/>
<rect x="392.53" y="341.22" width="6.00" height="6.00" fill="#465cb0"/>
<rect x="410.20" y="340.09" width="6.00" height="6.00" fill="#465cb0"/>
<rect x="427.86" y="340.09" width="6.00" height="6.00" fill="#465cb0"/>
<rect x="445.53" y="340.32" width="6.00" height="6.00" fill="#465cb0"/>
<circle cx="325.13" cy="345.13" r="3.00" fill="#000000"/>
<circle cx="342.53" cy="345.81" r="3.00" fill="#000000"/>
<circle cx="359.92" cy="342.64" r="3.00" fill="#000000"/>
<circle cx="377.86" cy="319.52" r="3.00" fill="#000000"/>
<circle cx="395.53" cy="318.84" r="3.00" fill="#000000"/>
<circle cx="413.20" cy="317.25" r="3.00" fill="#000000"/>
<circle cx="430.86" cy="317.93" r="3.00" fill="#000000"/>
<circle cx="448.53" cy="318.38" r="3.00" fill="#000000"/>
<text x="390.10" y="273.00" font-size="12.8" text-anchor="middle" >shRNA CPT1A</text>
<text transform="translate(294.50,349.90) rotate(-90)" font-size="12.8" text-anchor="middle">ECAR (mpH/min)</text>
<text x="387.00" y="459.00" font-size="12.8" text-anchor="middle" >Time (min)</text>
<text x="272.50" y="247.00" font-size="16" text-anchor="start" >D</text>
<line x1="468.00" y1="292.50" x2="483.25" y2="292.50" stroke="#000000" stroke-width="1.6" />
<circle cx="475.62" cy="292.50" r="2.80" fill="#000000"/>
<text x="491.30" y="296.30" font-size="11" text-anchor="start" >10&#956;M ETO</text>
<line x1="468.00" y1="310.75" x2="483.25" y2="310.75" stroke="#465cb0" stroke-width="1.6" />
<rect x="472.82" y="307.95" width="5.60" height="5.60" fill="#465cb0"/>
<text x="491.30" y="314.55" font-size="11" text-anchor="start" >5&#956;M ETO</text>
<line x1="468.00" y1="329.50" x2="483.25" y2="329.50" stroke="#8a2c96" stroke-width="1.6" />
<path d="M475.62,326.56L478.70,331.88L472.55,331.88Z" fill="#8a2c96"/>
<text x="491.30" y="333.30" font-size="11" text-anchor="start" >Ctrl</text>
<path d="M44.25,509.25H180.00V645.00H44.25Z" fill="none" stroke="#000000" stroke-width="1.5"/>
<line x1="40.05" y1="645.00" x2="44.25" y2="645.00" stroke="#000000" stroke-width="1.5" />
<text x="40.25" y="649.75" font-size="13.5" text-anchor="end" >60</text>
<line x1="40.05" y1="599.75" x2="44.25" y2="599.75" stroke="#000000" stroke-width="1.5" />
<text x="40.25" y="604.50" font-size="13.5" text-anchor="end" >80</text>
<line x1="40.05" y1="554.50" x2="44.25" y2="554.50" stroke="#000000" stroke-width="1.5" />
<text x="40.25" y="559.25" font-size="13.5" text-anchor="end" >100</text>
<line x1="40.05" y1="509.25" x2="44.25" y2="509.25" stroke="#000000" stroke-width="1.5" />
<text x="40.25" y="514.00" font-size="13.5" text-anchor="end" >120</text>
<line x1="44.25" y1="645.00" x2="44.25" y2="649.20" stroke="#000000" stroke-width="1.5" />
<text x="44.25" y="662.20" font-size="13.5" text-anchor="middle" >0</text>
<line x1="78.19" y1="645.00" x2="78.19" y2="649.20" stroke="#000000" stroke-width="1.5" />
<text x="78.19" y="662.20" font-size="13.5" text-anchor="middle" >20</text>
<line x1="112.12" y1="645.00" x2="112.12" y2="649.20" stroke="#000000" stroke-width="1.5" />
<text x="112.12" y="662.20" font-size="13.5" text-anchor="middle" >40</text>
<line x1="146.06" y1="645.00" x2="146.06" y2="649.20" stroke="#000000" stroke-width="1.5" />
<text x="146.06" y="662.20" font-size="13.5" text-anchor="middle" >60</text>
<line x1="180.00" y1="645.00" x2="180.00" y2="649.20" stroke="#000000" stroke-width="1.5" />
<text x="180.00" y="662.20" font-size="13.5" text-anchor="middle" >80</text>
<line x1="99.23" y1="509.25" x2="99.23" y2="645.00" stroke="#000000" stroke-width="1.4" stroke-dasharray="5.1 2.0"/>
<line x1="46.29" y1="602.24" x2="46.29" y2="605.41" stroke="#178c55" stroke-width="1.3" />
<line x1="43.19" y1="602.24" x2="49.39" y2="602.24" stroke="#178c55" stroke-width="1.5" />
<line x1="57.32" y1="604.73" x2="57.32" y2="607.89" stroke="#178c55" stroke-width="1.3" />
<line x1="54.22" y1="604.73" x2="60.42" y2="604.73" stroke="#178c55" stroke-width="1.5" />
<line x1="68.26" y1="605.63" x2="68.26" y2="608.80" stroke="#178c55" stroke-width="1.3" />
<line x1="65.16" y1="605.63" x2="71.36" y2="605.63" stroke="#178c55" stroke-width="1.5" />
<line x1="79.21" y1="605.63" x2="79.21" y2="608.80" stroke="#178c55" stroke-width="1.3" />
<line x1="76.11" y1="605.63" x2="82.31" y2="605.63" stroke="#178c55" stroke-width="1.5" />
<line x1="90.41" y1="606.54" x2="90.41" y2="609.71" stroke="#178c55" stroke-width="1.3" />
<line x1="87.31" y1="606.54" x2="93.50" y2="606.54" stroke="#178c55" stroke-width="1.5" />
<line x1="101.27" y1="606.09" x2="101.27" y2="609.25" stroke="#178c55" stroke-width="1.3" />
<line x1="98.17" y1="606.09" x2="104.37" y2="606.09" stroke="#178c55" stroke-width="1.5" />
<line x1="112.12" y1="580.07" x2="112.12" y2="587.99" stroke="#178c55" stroke-width="1.3" />
<line x1="109.03" y1="580.07" x2="115.22" y2="580.07" stroke="#178c55" stroke-width="1.5" />
<line x1="123.49" y1="577.35" x2="123.49" y2="585.27" stroke="#178c55" stroke-width="1.3" />
<line x1="120.39" y1="577.35" x2="126.59" y2="577.35" stroke="#178c55" stroke-width="1.5" />
<line x1="134.52" y1="574.18" x2="134.52" y2="582.10" stroke="#178c55" stroke-width="1.3" />
<line x1="131.42" y1="574.18" x2="137.62" y2="574.18" stroke="#178c55" stroke-width="1.5" />
<line x1="145.72" y1="574.18" x2="145.72" y2="582.10" stroke="#178c55" stroke-width="1.3" />
<line x1="142.62" y1="574.18" x2="148.82" y2="574.18" stroke="#178c55" stroke-width="1.5" />
<line x1="156.50" y1="573.96" x2="156.50" y2="581.88" stroke="#178c55" stroke-width="1.3" />
<line x1="153.40" y1="573.96" x2="159.60" y2="573.96" stroke="#178c55" stroke-width="1.5" />
<line x1="167.70" y1="573.05" x2="167.70" y2="580.97" stroke="#178c55" stroke-width="1.3" />
<line x1="164.60" y1="573.05" x2="170.80" y2="573.05" stroke="#178c55" stroke-width="1.5" />
<line x1="46.29" y1="575.32" x2="46.29" y2="580.07" stroke="#465cb0" stroke-width="1.3" />
<line x1="43.19" y1="575.32" x2="49.39" y2="575.32" stroke="#465cb0" stroke-width="1.5" />
<line x1="57.32" y1="578.71" x2="57.32" y2="583.23" stroke="#465cb0" stroke-width="1.3" />
<line x1="54.22" y1="578.71" x2="60.42" y2="578.71" stroke="#465cb0" stroke-width="1.5" />
<line x1="68.26" y1="580.97" x2="68.26" y2="585.27" stroke="#465cb0" stroke-width="1.3" />
<line x1="65.16" y1="580.97" x2="71.36" y2="580.97" stroke="#465cb0" stroke-width="1.5" />
<line x1="79.21" y1="580.29" x2="79.21" y2="585.04" stroke="#465cb0" stroke-width="1.3" />
<line x1="76.11" y1="580.29" x2="82.31" y2="580.29" stroke="#465cb0" stroke-width="1.5" />
<line x1="90.41" y1="580.97" x2="90.41" y2="585.95" stroke="#465cb0" stroke-width="1.3" />
<line x1="87.31" y1="580.97" x2="93.50" y2="580.97" stroke="#465cb0" stroke-width="1.5" />
<line x1="101.27" y1="580.07" x2="101.27" y2="585.04" stroke="#465cb0" stroke-width="1.3" />
<line x1="98.17" y1="580.07" x2="104.37" y2="580.07" stroke="#465cb0" stroke-width="1.5" />
<line x1="112.12" y1="538.44" x2="112.12" y2="545.90" stroke="#465cb0" stroke-width="1.3" />
<line x1="109.03" y1="538.44" x2="115.22" y2="538.44" stroke="#465cb0" stroke-width="1.5" />
<line x1="123.49" y1="538.89" x2="123.49" y2="545.90" stroke="#465cb0" stroke-width="1.3" />
<line x1="120.39" y1="538.89" x2="126.59" y2="538.89" stroke="#465cb0" stroke-width="1.5" />
<line x1="134.52" y1="533.91" x2="134.52" y2="542.06" stroke="#465cb0" stroke-width="1.3" />
<line x1="131.42" y1="533.91" x2="137.62" y2="533.91" stroke="#465cb0" stroke-width="1.5" />
<line x1="145.72" y1="535.83" x2="145.72" y2="542.40" stroke="#465cb0" stroke-width="1.3" />
<line x1="142.62" y1="535.83" x2="148.82" y2="535.83" stroke="#465cb0" stroke-width="1.5" />
<line x1="156.50" y1="536.29" x2="156.50" y2="543.30" stroke="#465cb0" stroke-width="1.3" />
<line x1="153.40" y1="536.29" x2="159.60" y2="536.29" stroke="#465cb0" stroke-width="1.5" />
<line x1="167.70" y1="535.72" x2="167.70" y2="542.74" stroke="#465cb0" stroke-width="1.3" />
<line x1="164.60" y1="535.72" x2="170.80" y2="535.72" stroke="#465cb0" stroke-width="1.5" />
<line x1="46.29" y1="606.09" x2="46.29" y2="610.38" stroke="#000000" stroke-width="1.3" />
<line x1="43.19" y1="606.09" x2="49.39" y2="606.09" stroke="#000000" stroke-width="1.5" />
<line x1="57.32" y1="606.99" x2="57.32" y2="611.29" stroke="#000000" stroke-width="1.3" />
<line x1="54.22" y1="606.99" x2="60.42" y2="606.99" stroke="#000000" stroke-width="1.5" />
<line x1="68.26" y1="608.12" x2="68.26" y2="612.42" stroke="#000000" stroke-width="1.3" />
<line x1="65.16" y1="608.12" x2="71.36" y2="608.12" stroke="#000000" stroke-width="1.5" />
<line x1="79.21" y1="607.44" x2="79.21" y2="611.74" stroke="#000000" stroke-width="1.3" />
<line x1="76.11" y1="607.44" x2="82.31" y2="607.44" stroke="#000000" stroke-width="1.5" />
<line x1="90.41" y1="608.57" x2="90.41" y2="612.87" stroke="#000000" stroke-width="1.3" />
<line x1="87.31" y1="608.57" x2="93.50" y2="608.57" stroke="#000000" stroke-width="1.5" />
<line x1="101.27" y1="607.44" x2="101.27" y2="611.74" stroke="#000000" stroke-width="1.3" />
<line x1="98.17" y1="607.44" x2="104.37" y2="607.44" stroke="#000000" stroke-width="1.5" />
<line x1="112.12" y1="595.23" x2="112.12" y2="600.20" stroke="#000000" stroke-width="1.3" />
<line x1="109.03" y1="595.23" x2="115.22" y2="595.23" stroke="#000000" stroke-width="1.5" />
<line x1="123.49" y1="595.23" x2="123.49" y2="600.20" stroke="#000000" stroke-width="1.3" />
<line x1="120.39" y1="595.23" x2="126.59" y2="595.23" stroke="#000000" stroke-width="1.5" />
<line x1="134.52" y1="592.62" x2="134.52" y2="597.60" stroke="#000000" stroke-width="1.3" />
<line x1="131.42" y1="592.62" x2="137.62" y2="592.62" stroke="#000000" stroke-width="1.5" />
<line x1="145.72" y1="592.96" x2="145.72" y2="597.94" stroke="#000000" stroke-width="1.3" />
<line x1="142.62" y1="592.96" x2="148.82" y2="592.96" stroke="#000000" stroke-width="1.5" />
<line x1="156.50" y1="592.62" x2="156.50" y2="597.60" stroke="#000000" stroke-width="1.3" />
<line x1="153.40" y1="592.62" x2="159.60" y2="592.62" stroke="#000000" stroke-width="1.5" />
<line x1="167.70" y1="591.72" x2="167.70" y2="596.70" stroke="#000000" stroke-width="1.3" />
<line x1="164.60" y1="591.72" x2="170.80" y2="591.72" stroke="#000000" stroke-width="1.5" />
<line x1="46.29" y1="588.66" x2="46.29" y2="593.41" stroke="#8a2c96" stroke-width="1.3" />
<line x1="43.19" y1="588.66" x2="49.39" y2="588.66" stroke="#8a2c96" stroke-width="1.5" />
<line x1="57.32" y1="590.02" x2="57.32" y2="594.77" stroke="#8a2c96" stroke-width="1.3" />
<line x1="54.22" y1="590.02" x2="60.42" y2="590.02" stroke="#8a2c96" stroke-width="1.5" />
<line x1="68.26" y1="591.15" x2="68.26" y2="595.90" stroke="#8a2c96" stroke-width="1.3" />
<line x1="65.16" y1="591.15" x2="71.36" y2="591.15" stroke="#8a2c96" stroke-width="1.5" />
<line x1="79.21" y1="591.15" x2="79.21" y2="595.90" stroke="#8a2c96" stroke-width="1.3" />
<line x1="76.11" y1="591.15" x2="82.31" y2="591.15" stroke="#8a2c96" stroke-width="1.5" />
<line x1="90.41" y1="591.15" x2="90.41" y2="595.90" stroke="#8a2c96" stroke-width="1.3" />
<line x1="87.31" y1="591.15" x2="93.50" y2="591.15" stroke="#8a2c96" stroke-width="1.5" />
<line x1="101.27" y1="590.70" x2="101.27" y2="595.45" stroke="#8a2c96" stroke-width="1.3" />
<line x1="98.17" y1="590.70" x2="104.37" y2="590.70" stroke="#8a2c96" stroke-width="1.5" />
<line x1="112.12" y1="578.03" x2="112.12" y2="585.27" stroke="#8a2c96" stroke-width="1.3" />
<line x1="109.03" y1="578.03" x2="115.22" y2="578.03" stroke="#8a2c96" stroke-width="1.5" />
<line x1="123.49" y1="578.93" x2="123.49" y2="586.17" stroke="#8a2c96" stroke-width="1.3" />
<line x1="120.39" y1="578.93" x2="126.59" y2="578.93" stroke="#8a2c96" stroke-width="1.5" />
<line x1="134.52" y1="573.73" x2="134.52" y2="580.97" stroke="#8a2c96" stroke-width="1.3" />
<line x1="131.42" y1="573.73" x2="137.62" y2="573.73" stroke="#8a2c96" stroke-width="1.5" />
<line x1="145.72" y1="574.64" x2="145.72" y2="581.88" stroke="#8a2c96" stroke-width="1.3" />
<line x1="142.62" y1="574.64" x2="148.82" y2="574.64" stroke="#8a2c96" stroke-width="1.5" />
<line x1="156.50" y1="571.47" x2="156.50" y2="578.71" stroke="#8a2c96" stroke-width="1.3" />
<line x1="153.40" y1="571.47" x2="159.60" y2="571.47" stroke="#8a2c96" stroke-width="1.5" />
<line x1="167.70" y1="572.83" x2="167.70" y2="580.07" stroke="#8a2c96" stroke-width="1.3" />
<line x1="164.60" y1="572.83" x2="170.80" y2="572.83" stroke="#8a2c96" stroke-width="1.5" />
<path d="M46.29,605.41 L57.32,607.89 L68.26,608.80 L79.21,608.80 L90.41,609.71 L101.27,609.25 L112.12,587.99 L123.49,585.27 L134.52,582.10 L145.72,582.10 L156.50,581.88 L167.70,580.97" fill="none" stroke="#178c55" stroke-width="1.6" stroke-linejoin="round"/>
<path d="M46.29,580.07 L57.32,583.23 L68.26,585.27 L79.21,585.04 L90.41,585.95 L101.27,585.04 L112.12,545.90 L123.49,545.90 L134.52,542.06 L145.72,542.40 L156.50,543.30 L167.70,542.74" fill="none" stroke="#465cb0" stroke-width="1.6" stroke-linejoin="round"/>
<path d="M46.29,610.38 L57.32,611.29 L68.26,612.42 L79.21,611.74 L90.41,612.87 L101.27,611.74 L112.12,600.20 L123.49,600.20 L134.52,597.60 L145.72,597.94 L156.50,597.60 L167.70,596.70" fill="none" stroke="#000000" stroke-width="1.6" stroke-linejoin="round"/>
<path d="M46.29,593.41 L57.32,594.77 L68.26,595.90 L79.21,595.90 L90.41,595.90 L101.27,595.45 L112.12,585.27 L123.49,586.17 L134.52,580.97 L145.72,581.88 L156.50,578.71 L167.70,580.07" fill="none" stroke="#8a2c96" stroke-width="1.6" stroke-linejoin="round"/>
<path d="M46.29,608.14L49.15,603.20L43.43,603.20Z" fill="#178c55"/>
<path d="M57.32,610.62L60.18,605.68L54.46,605.68Z" fill="#178c55"/>
<path d="M68.26,611.53L71.12,606.59L65.40,606.59Z" fill="#178c55"/>
<path d="M79.21,611.53L82.07,606.59L76.35,606.59Z" fill="#178c55"/>
<path d="M90.41,612.44L93.27,607.50L87.55,607.50Z" fill="#178c55"/>
<path d="M101.27,611.98L104.13,607.04L98.41,607.04Z" fill="#178c55"/>
<path d="M112.12,590.72L114.98,585.77L109.27,585.77Z" fill="#178c55"/>
<path d="M123.49,588.00L126.35,583.06L120.63,583.06Z" fill="#178c55"/>
<path d="M134.52,584.83L137.38,579.89L131.66,579.89Z" fill="#178c55"/>
<path d="M145.72,584.83L148.58,579.89L142.86,579.89Z" fill="#178c55"/>
<path d="M156.50,584.61L159.36,579.67L153.64,579.67Z" fill="#178c55"/>
<path d="M167.70,583.70L170.56,578.76L164.84,578.76Z" fill="#178c55"/>
<path d="M46.29,577.34L49.15,582.28L43.43,582.28Z" fill="#465cb0"/>
<path d="M57.32,580.50L60.18,585.44L54.46,585.44Z" fill="#465cb0"/>
<path d="M68.26,582.54L71.12,587.48L65.40,587.48Z" fill="#465cb0"/>
<path d="M79.21,582.31L82.07,587.25L76.35,587.25Z" fill="#465cb0"/>
<path d="M90.41,583.22L93.27,588.16L87.55,588.16Z" fill="#465cb0"/>
<path d="M101.27,582.31L104.13,587.25L98.41,587.25Z" fill="#465cb0"/>
<path d="M112.12,543.17L114.98,548.11L109.27,548.11Z" fill="#465cb0"/>
<path d="M123.49,543.17L126.35,548.11L120.63,548.11Z" fill="#465cb0"/>
<path d="M134.52,539.33L137.38,544.27L131.66,544.27Z" fill="#465cb0"/>
<path d="M145.72,539.67L148.58,544.61L142.86,544.61Z" fill="#465cb0"/>
<path d="M156.50,540.57L159.36,545.51L153.64,545.51Z" fill="#465cb0"/>
<path d="M167.70,540.00L170.56,544.95L164.84,544.95Z" fill="#465cb0"/>
<rect x="43.69" y="607.78" width="5.20" height="5.20" fill="#000000"/>
<rect x="54.72" y="608.69" width="5.20" height="5.20" fill="#000000"/>
<rect x="65.66" y="609.82" width="5.20" height="5.20" fill="#000000"/>
<rect x="76.61" y="609.14" width="5.20" height="5.20" fill="#000000"/>
<rect x="87.81" y="610.27" width="5.20" height="5.20" fill="#000000"/>
<rect x="98.67" y="609.14" width="5.20" height="5.20" fill="#000000"/>
<rect x="109.53" y="597.60" width="5.20" height="5.20" fill="#000000"/>
<rect x="120.89" y="597.60" width="5.20" height="5.20" fill="#000000"/>
<rect x="131.92" y="595.00" width="5.20" height="5.20" fill="#000000"/>
<rect x="143.12" y="595.34" width="5.20" height="5.20" fill="#000000"/>
<rect x="153.90" y="595.00" width="5.20" height="5.20" fill="#000000"/>
<rect x="165.10" y="594.10" width="5.20" height="5.20" fill="#000000"/>
<circle cx="46.29" cy="593.41" r="2.60" fill="#8a2c96"/>
<circle cx="57.32" cy="594.77" r="2.60" fill="#8a2c96"/>
<circle cx="68.26" cy="595.90" r="2.60" fill="#8a2c96"/>
<circle cx="79.21" cy="595.90" r="2.60" fill="#8a2c96"/>
<circle cx="90.41" cy="595.90" r="2.60" fill="#8a2c96"/>
<circle cx="101.27" cy="595.45" r="2.60" fill="#8a2c96"/>
<circle cx="112.12" cy="585.27" r="2.60" fill="#8a2c96"/>
<circle cx="123.49" cy="586.17" r="2.60" fill="#8a2c96"/>
<circle cx="134.52" cy="580.97" r="2.60" fill="#8a2c96"/>
<circle cx="145.72" cy="581.88" r="2.60" fill="#8a2c96"/>
<circle cx="156.50" cy="578.71" r="2.60" fill="#8a2c96"/>
<circle cx="167.70" cy="580.07" r="2.60" fill="#8a2c96"/>
<text transform="translate(13.60,576.15) rotate(-90)" font-size="12.8" text-anchor="middle">ECAR (mpH/min)</text>
<text x="108.50" y="678.75" font-size="12.8" text-anchor="middle" >Time (min)</text>
<text x="9.50" y="490.00" font-size="16" text-anchor="start" >E</text>
<line x1="189.50" y1="518.60" x2="205.10" y2="518.60" stroke="#8a2c96" stroke-width="1.6" />
<circle cx="197.30" cy="518.60" r="2.80" fill="#8a2c96"/>
<text x="227.85" y="521.20" font-size="11" text-anchor="middle" >Medium</text>
<text x="228.70" y="534.00" font-size="11" text-anchor="middle" >(Ctrl)</text>
<line x1="189.50" y1="555.40" x2="205.10" y2="555.40" stroke="#000000" stroke-width="1.6" />
<rect x="194.50" y="552.60" width="5.60" height="5.60" fill="#000000"/>
<text x="227.00" y="555.40" font-size="11" text-anchor="middle" >Acetate</text>
<text x="225.70" y="568.50" font-size="11" text-anchor="middle" >(Ctrl)</text>
<line x1="189.50" y1="589.30" x2="205.10" y2="589.30" stroke="#465cb0" stroke-width="1.6" />
<path d="M197.30,586.36L200.38,591.68L194.22,591.68Z" fill="#465cb0"/>
<text x="229.80" y="588.00" font-size="11" text-anchor="middle" >Medium</text>
<text x="233.30" y="601.60" font-size="11" text-anchor="middle" >(5&#956;M ETO)</text>
<line x1="189.50" y1="623.70" x2="205.10" y2="623.70" stroke="#178c55" stroke-width="1.6" />
<path d="M197.30,626.64L200.38,621.32L194.22,621.32Z" fill="#178c55"/>
<text x="229.85" y="622.60" font-size="11" text-anchor="middle" >Acetate</text>
<text x="234.20" y="635.30" font-size="11" text-anchor="middle" >(5&#956;M ETO)</text>
<path d="M325.25,510.40H460.25V646.25H325.25Z" fill="none" stroke="#000000" stroke-width="1.5"/>
<line x1="321.05" y1="646.25" x2="325.25" y2="646.25" stroke="#000000" stroke-width="1.5" />
<text x="321.25" y="651.00" font-size="13.5" text-anchor="end" >60</text>
<line x1="321.05" y1="600.97" x2="325.25" y2="600.97" stroke="#000000" stroke-width="1.5" />
<text x="321.25" y="605.72" font-size="13.5" text-anchor="end" >80</text>
<line x1="321.05" y1="555.68" x2="325.25" y2="555.68" stroke="#000000" stroke-width="1.5" />
<text x="321.25" y="560.43" font-size="13.5" text-anchor="end" >100</text>
<line x1="321.05" y1="510.40" x2="325.25" y2="510.40" stroke="#000000" stroke-width="1.5" />
<text x="321.25" y="515.15" font-size="13.5" text-anchor="end" >120</text>
<line x1="325.25" y1="646.25" x2="325.25" y2="650.45" stroke="#000000" stroke-width="1.5" />
<text x="325.25" y="663.00" font-size="13.5" text-anchor="middle" >0</text>
<line x1="359.00" y1="646.25" x2="359.00" y2="650.45" stroke="#000000" stroke-width="1.5" />
<text x="359.00" y="663.00" font-size="13.5" text-anchor="middle" >20</text>
<line x1="392.75" y1="646.25" x2="392.75" y2="650.45" stroke="#000000" stroke-width="1.5" />
<text x="392.75" y="663.00" font-size="13.5" text-anchor="middle" >40</text>
<line x1="426.50" y1="646.25" x2="426.50" y2="650.45" stroke="#000000" stroke-width="1.5" />
<text x="426.50" y="663.00" font-size="13.5" text-anchor="middle" >60</text>
<line x1="460.25" y1="646.25" x2="460.25" y2="650.45" stroke="#000000" stroke-width="1.5" />
<text x="460.25" y="663.00" font-size="13.5" text-anchor="middle" >80</text>
<line x1="379.59" y1="510.40" x2="379.59" y2="646.25" stroke="#000000" stroke-width="1.4" stroke-dasharray="5.1 2.0"/>
<line x1="392.75" y1="551.61" x2="392.75" y2="570.63" stroke="#178c55" stroke-width="1.3" />
<line x1="389.65" y1="551.61" x2="395.85" y2="551.61" stroke="#178c55" stroke-width="1.5" />
<line x1="389.65" y1="570.63" x2="395.85" y2="570.63" stroke="#178c55" stroke-width="1.5" />
<line x1="404.06" y1="543.68" x2="404.06" y2="560.89" stroke="#178c55" stroke-width="1.3" />
<line x1="400.96" y1="543.68" x2="407.16" y2="543.68" stroke="#178c55" stroke-width="1.5" />
<line x1="400.96" y1="560.89" x2="407.16" y2="560.89" stroke="#178c55" stroke-width="1.5" />
<line x1="415.02" y1="539.38" x2="415.02" y2="556.59" stroke="#178c55" stroke-width="1.3" />
<line x1="411.92" y1="539.38" x2="418.12" y2="539.38" stroke="#178c55" stroke-width="1.5" />
<line x1="411.92" y1="556.59" x2="418.12" y2="556.59" stroke="#178c55" stroke-width="1.5" />
<line x1="426.16" y1="536.89" x2="426.16" y2="552.74" stroke="#178c55" stroke-width="1.3" />
<line x1="423.06" y1="536.89" x2="429.26" y2="536.89" stroke="#178c55" stroke-width="1.5" />
<line x1="423.06" y1="552.74" x2="429.26" y2="552.74" stroke="#178c55" stroke-width="1.5" />
<line x1="436.88" y1="535.76" x2="436.88" y2="551.61" stroke="#178c55" stroke-width="1.3" />
<line x1="433.78" y1="535.76" x2="439.98" y2="535.76" stroke="#178c55" stroke-width="1.5" />
<line x1="433.78" y1="551.61" x2="439.98" y2="551.61" stroke="#178c55" stroke-width="1.5" />
<line x1="448.02" y1="535.08" x2="448.02" y2="550.93" stroke="#178c55" stroke-width="1.3" />
<line x1="444.92" y1="535.08" x2="451.12" y2="535.08" stroke="#178c55" stroke-width="1.5" />
<line x1="444.92" y1="550.93" x2="451.12" y2="550.93" stroke="#178c55" stroke-width="1.5" />
<line x1="392.75" y1="528.97" x2="392.75" y2="546.17" stroke="#465cb0" stroke-width="1.3" />
<line x1="389.65" y1="528.97" x2="395.85" y2="528.97" stroke="#465cb0" stroke-width="1.5" />
<line x1="389.65" y1="546.17" x2="395.85" y2="546.17" stroke="#465cb0" stroke-width="1.5" />
<line x1="404.06" y1="526.93" x2="404.06" y2="544.14" stroke="#465cb0" stroke-width="1.3" />
<line x1="400.96" y1="526.93" x2="407.16" y2="526.93" stroke="#465cb0" stroke-width="1.5" />
<line x1="400.96" y1="544.14" x2="407.16" y2="544.14" stroke="#465cb0" stroke-width="1.5" />
<line x1="415.02" y1="527.61" x2="415.02" y2="544.82" stroke="#465cb0" stroke-width="1.3" />
<line x1="411.92" y1="527.61" x2="418.12" y2="527.61" stroke="#465cb0" stroke-width="1.5" />
<line x1="411.92" y1="544.82" x2="418.12" y2="544.82" stroke="#465cb0" stroke-width="1.5" />
<line x1="426.16" y1="528.06" x2="426.16" y2="545.27" stroke="#465cb0" stroke-width="1.3" />
<line x1="423.06" y1="528.06" x2="429.26" y2="528.06" stroke="#465cb0" stroke-width="1.5" />
<line x1="423.06" y1="545.27" x2="429.26" y2="545.27" stroke="#465cb0" stroke-width="1.5" />
<line x1="436.88" y1="528.97" x2="436.88" y2="546.17" stroke="#465cb0" stroke-width="1.3" />
<line x1="433.78" y1="528.97" x2="439.98" y2="528.97" stroke="#465cb0" stroke-width="1.5" />
<line x1="433.78" y1="546.17" x2="439.98" y2="546.17" stroke="#465cb0" stroke-width="1.5" />
<line x1="448.02" y1="528.97" x2="448.02" y2="546.17" stroke="#465cb0" stroke-width="1.3" />
<line x1="444.92" y1="528.97" x2="451.12" y2="528.97" stroke="#465cb0" stroke-width="1.5" />
<line x1="444.92" y1="546.17" x2="451.12" y2="546.17" stroke="#465cb0" stroke-width="1.5" />
<line x1="327.27" y1="606.85" x2="327.27" y2="615.91" stroke="#000000" stroke-width="1.3" />
<line x1="324.17" y1="606.85" x2="330.38" y2="606.85" stroke="#000000" stroke-width="1.5" />
<line x1="324.17" y1="615.91" x2="330.38" y2="615.91" stroke="#000000" stroke-width="1.5" />
<line x1="338.24" y1="607.76" x2="338.24" y2="616.82" stroke="#000000" stroke-width="1.3" />
<line x1="335.14" y1="607.76" x2="341.34" y2="607.76" stroke="#000000" stroke-width="1.5" />
<line x1="335.14" y1="616.82" x2="341.34" y2="616.82" stroke="#000000" stroke-width="1.5" />
<line x1="349.13" y1="608.66" x2="349.13" y2="617.72" stroke="#000000" stroke-width="1.3" />
<line x1="346.03" y1="608.66" x2="352.23" y2="608.66" stroke="#000000" stroke-width="1.5" />
<line x1="346.03" y1="617.72" x2="352.23" y2="617.72" stroke="#000000" stroke-width="1.5" />
<line x1="360.01" y1="608.21" x2="360.01" y2="617.27" stroke="#000000" stroke-width="1.3" />
<line x1="356.91" y1="608.21" x2="363.11" y2="608.21" stroke="#000000" stroke-width="1.5" />
<line x1="356.91" y1="617.27" x2="363.11" y2="617.27" stroke="#000000" stroke-width="1.5" />
<line x1="371.15" y1="609.34" x2="371.15" y2="618.40" stroke="#000000" stroke-width="1.3" />
<line x1="368.05" y1="609.34" x2="374.25" y2="609.34" stroke="#000000" stroke-width="1.5" />
<line x1="368.05" y1="618.40" x2="374.25" y2="618.40" stroke="#000000" stroke-width="1.5" />
<line x1="381.95" y1="608.66" x2="381.95" y2="617.72" stroke="#000000" stroke-width="1.3" />
<line x1="378.85" y1="608.66" x2="385.05" y2="608.66" stroke="#000000" stroke-width="1.5" />
<line x1="378.85" y1="617.72" x2="385.05" y2="617.72" stroke="#000000" stroke-width="1.5" />
<line x1="392.75" y1="595.99" x2="392.75" y2="606.40" stroke="#000000" stroke-width="1.3" />
<line x1="389.65" y1="595.99" x2="395.85" y2="595.99" stroke="#000000" stroke-width="1.5" />
<line x1="389.65" y1="606.40" x2="395.85" y2="606.40" stroke="#000000" stroke-width="1.5" />
<line x1="404.06" y1="595.99" x2="404.06" y2="606.40" stroke="#000000" stroke-width="1.3" />
<line x1="400.96" y1="595.99" x2="407.16" y2="595.99" stroke="#000000" stroke-width="1.5" />
<line x1="400.96" y1="606.40" x2="407.16" y2="606.40" stroke="#000000" stroke-width="1.5" />
<line x1="415.02" y1="593.49" x2="415.02" y2="603.91" stroke="#000000" stroke-width="1.3" />
<line x1="411.92" y1="593.49" x2="418.12" y2="593.49" stroke="#000000" stroke-width="1.5" />
<line x1="411.92" y1="603.91" x2="418.12" y2="603.91" stroke="#000000" stroke-width="1.5" />
<line x1="426.16" y1="593.95" x2="426.16" y2="604.36" stroke="#000000" stroke-width="1.3" />
<line x1="423.06" y1="593.95" x2="429.26" y2="593.95" stroke="#000000" stroke-width="1.5" />
<line x1="423.06" y1="604.36" x2="429.26" y2="604.36" stroke="#000000" stroke-width="1.5" />
<line x1="436.88" y1="593.49" x2="436.88" y2="603.91" stroke="#000000" stroke-width="1.3" />
<line x1="433.78" y1="593.49" x2="439.98" y2="593.49" stroke="#000000" stroke-width="1.5" />
<line x1="433.78" y1="603.91" x2="439.98" y2="603.91" stroke="#000000" stroke-width="1.5" />
<line x1="448.02" y1="592.14" x2="448.02" y2="602.55" stroke="#000000" stroke-width="1.3" />
<line x1="444.92" y1="592.14" x2="451.12" y2="592.14" stroke="#000000" stroke-width="1.5" />
<line x1="444.92" y1="602.55" x2="451.12" y2="602.55" stroke="#000000" stroke-width="1.5" />
<line x1="327.27" y1="589.19" x2="327.27" y2="599.16" stroke="#8a2c96" stroke-width="1.3" />
<line x1="324.17" y1="589.19" x2="330.38" y2="589.19" stroke="#8a2c96" stroke-width="1.5" />
<line x1="324.17" y1="599.16" x2="330.38" y2="599.16" stroke="#8a2c96" stroke-width="1.5" />
<line x1="338.24" y1="590.55" x2="338.24" y2="600.51" stroke="#8a2c96" stroke-width="1.3" />
<line x1="335.14" y1="590.55" x2="341.34" y2="590.55" stroke="#8a2c96" stroke-width="1.5" />
<line x1="335.14" y1="600.51" x2="341.34" y2="600.51" stroke="#8a2c96" stroke-width="1.5" />
<line x1="349.13" y1="591.68" x2="349.13" y2="601.65" stroke="#8a2c96" stroke-width="1.3" />
<line x1="346.03" y1="591.68" x2="352.23" y2="591.68" stroke="#8a2c96" stroke-width="1.5" />
<line x1="346.03" y1="601.65" x2="352.23" y2="601.65" stroke="#8a2c96" stroke-width="1.5" />
<line x1="360.01" y1="591.46" x2="360.01" y2="601.42" stroke="#8a2c96" stroke-width="1.3" />
<line x1="356.91" y1="591.46" x2="363.11" y2="591.46" stroke="#8a2c96" stroke-width="1.5" />
<line x1="356.91" y1="601.42" x2="363.11" y2="601.42" stroke="#8a2c96" stroke-width="1.5" />
<line x1="371.15" y1="591.68" x2="371.15" y2="601.65" stroke="#8a2c96" stroke-width="1.3" />
<line x1="368.05" y1="591.68" x2="374.25" y2="591.68" stroke="#8a2c96" stroke-width="1.5" />
<line x1="368.05" y1="601.65" x2="374.25" y2="601.65" stroke="#8a2c96" stroke-width="1.5" />
<line x1="381.95" y1="591.23" x2="381.95" y2="601.19" stroke="#8a2c96" stroke-width="1.3" />
<line x1="378.85" y1="591.23" x2="385.05" y2="591.23" stroke="#8a2c96" stroke-width="1.5" />
<line x1="378.85" y1="601.19" x2="385.05" y2="601.19" stroke="#8a2c96" stroke-width="1.5" />
<line x1="392.75" y1="578.78" x2="392.75" y2="594.17" stroke="#8a2c96" stroke-width="1.3" />
<line x1="389.65" y1="578.78" x2="395.85" y2="578.78" stroke="#8a2c96" stroke-width="1.5" />
<line x1="389.65" y1="594.17" x2="395.85" y2="594.17" stroke="#8a2c96" stroke-width="1.5" />
<line x1="404.06" y1="579.68" x2="404.06" y2="595.08" stroke="#8a2c96" stroke-width="1.3" />
<line x1="400.96" y1="579.68" x2="407.16" y2="579.68" stroke="#8a2c96" stroke-width="1.5" />
<line x1="400.96" y1="595.08" x2="407.16" y2="595.08" stroke="#8a2c96" stroke-width="1.5" />
<line x1="415.02" y1="574.25" x2="415.02" y2="589.65" stroke="#8a2c96" stroke-width="1.3" />
<line x1="411.92" y1="574.25" x2="418.12" y2="574.25" stroke="#8a2c96" stroke-width="1.5" />
<line x1="411.92" y1="589.65" x2="418.12" y2="589.65" stroke="#8a2c96" stroke-width="1.5" />
<line x1="426.16" y1="575.16" x2="426.16" y2="590.55" stroke="#8a2c96" stroke-width="1.3" />
<line x1="423.06" y1="575.16" x2="429.26" y2="575.16" stroke="#8a2c96" stroke-width="1.5" />
<line x1="423.06" y1="590.55" x2="429.26" y2="590.55" stroke="#8a2c96" stroke-width="1.5" />
<line x1="436.88" y1="571.76" x2="436.88" y2="587.16" stroke="#8a2c96" stroke-width="1.3" />
<line x1="433.78" y1="571.76" x2="439.98" y2="571.76" stroke="#8a2c96" stroke-width="1.5" />
<line x1="433.78" y1="587.16" x2="439.98" y2="587.16" stroke="#8a2c96" stroke-width="1.5" />
<line x1="448.02" y1="573.57" x2="448.02" y2="588.97" stroke="#8a2c96" stroke-width="1.3" />
<line x1="444.92" y1="573.57" x2="451.12" y2="573.57" stroke="#8a2c96" stroke-width="1.5" />
<line x1="444.92" y1="588.97" x2="451.12" y2="588.97" stroke="#8a2c96" stroke-width="1.5" />
<path d="M327.27,601.19 L338.24,602.33 L349.13,603.68 L360.01,603.00 L371.15,603.00 L381.95,602.33 L392.75,561.12 L404.06,552.29 L415.02,547.99 L426.16,544.82 L436.88,543.68 L448.02,543.00" fill="none" stroke="#178c55" stroke-width="1.6" stroke-linejoin="round"/>
<path d="M327.27,575.61 L338.24,577.65 L349.13,579.23 L360.01,578.78 L371.15,579.68 L381.95,579.23 L392.75,537.57 L404.06,535.53 L415.02,536.21 L426.16,536.66 L436.88,537.57 L448.02,537.57" fill="none" stroke="#465cb0" stroke-width="1.6" stroke-linejoin="round"/>
<path d="M327.27,611.38 L338.24,612.29 L349.13,613.19 L360.01,612.74 L371.15,613.87 L381.95,613.19 L392.75,601.19 L404.06,601.19 L415.02,598.70 L426.16,599.16 L436.88,598.70 L448.02,597.34" fill="none" stroke="#000000" stroke-width="1.6" stroke-linejoin="round"/>
<path d="M327.27,594.17 L338.24,595.53 L349.13,596.66 L360.01,596.44 L371.15,596.66 L381.95,596.21 L392.75,586.48 L404.06,587.38 L415.02,581.95 L426.16,582.85 L436.88,579.46 L448.02,581.27" fill="none" stroke="#8a2c96" stroke-width="1.6" stroke-linejoin="round"/>
<path d="M327.27,604.34L330.57,598.64L323.97,598.64Z" fill="#178c55"/>
<path d="M338.24,605.48L341.54,599.78L334.94,599.78Z" fill="#178c55"/>
<path d="M349.13,606.83L352.43,601.13L345.83,601.13Z" fill="#178c55"/>
<path d="M360.01,606.15L363.31,600.45L356.71,600.45Z" fill="#178c55"/>
<path d="M371.15,606.15L374.45,600.45L367.85,600.45Z" fill="#178c55"/>
<path d="M381.95,605.48L385.25,599.78L378.65,599.78Z" fill="#178c55"/>
<path d="M392.75,564.27L396.05,558.57L389.45,558.57Z" fill="#178c55"/>
<path d="M404.06,555.44L407.36,549.74L400.76,549.74Z" fill="#178c55"/>
<path d="M415.02,551.14L418.32,545.44L411.72,545.44Z" fill="#178c55"/>
<path d="M426.16,547.97L429.46,542.27L422.86,542.27Z" fill="#178c55"/>
<path d="M436.88,546.83L440.18,541.13L433.58,541.13Z" fill="#178c55"/>
<path d="M448.02,546.15L451.32,540.45L444.72,540.45Z" fill="#178c55"/>
<path d="M327.27,572.46L330.57,578.16L323.97,578.16Z" fill="#465cb0"/>
<path d="M338.24,574.50L341.54,580.20L334.94,580.20Z" fill="#465cb0"/>
<path d="M349.13,576.08L352.43,581.78L345.83,581.78Z" fill="#465cb0"/>
<path d="M360.01,575.63L363.31,581.33L356.71,581.33Z" fill="#465cb0"/>
<path d="M371.15,576.53L374.45,582.23L367.85,582.23Z" fill="#465cb0"/>
<path d="M381.95,576.08L385.25,581.78L378.65,581.78Z" fill="#465cb0"/>
<path d="M392.75,534.42L396.05,540.12L389.45,540.12Z" fill="#465cb0"/>
<path d="M404.06,532.38L407.36,538.08L400.76,538.08Z" fill="#465cb0"/>
<path d="M415.02,533.06L418.32,538.76L411.72,538.76Z" fill="#465cb0"/>
<path d="M426.16,533.51L429.46,539.21L422.86,539.21Z" fill="#465cb0"/>
<path d="M436.88,534.42L440.18,540.12L433.58,540.12Z" fill="#465cb0"/>
<path d="M448.02,534.42L451.32,540.12L444.72,540.12Z" fill="#465cb0"/>
<rect x="324.27" y="608.38" width="6.00" height="6.00" fill="#000000"/>
<rect x="335.24" y="609.29" width="6.00" height="6.00" fill="#000000"/>
<rect x="346.13" y="610.19" width="6.00" height="6.00" fill="#000000"/>
<rect x="357.01" y="609.74" width="6.00" height="6.00" fill="#000000"/>
<rect x="368.15" y="610.87" width="6.00" height="6.00" fill="#000000"/>
<rect x="378.95" y="610.19" width="6.00" height="6.00" fill="#000000"/>
<rect x="389.75" y="598.19" width="6.00" height="6.00" fill="#000000"/>
<rect x="401.06" y="598.19" width="6.00" height="6.00" fill="#000000"/>
<rect x="412.02" y="595.70" width="6.00" height="6.00" fill="#000000"/>
<rect x="423.16" y="596.16" width="6.00" height="6.00" fill="#000000"/>
<rect x="433.88" y="595.70" width="6.00" height="6.00" fill="#000000"/>
<rect x="445.02" y="594.34" width="6.00" height="6.00" fill="#000000"/>
<circle cx="327.27" cy="594.17" r="3.00" fill="#8a2c96"/>
<circle cx="338.24" cy="595.53" r="3.00" fill="#8a2c96"/>
<circle cx="349.13" cy="596.66" r="3.00" fill="#8a2c96"/>
<circle cx="360.01" cy="596.44" r="3.00" fill="#8a2c96"/>
<circle cx="371.15" cy="596.66" r="3.00" fill="#8a2c96"/>
<circle cx="381.95" cy="596.21" r="3.00" fill="#8a2c96"/>
<circle cx="392.75" cy="586.48" r="3.00" fill="#8a2c96"/>
<circle cx="404.06" cy="587.38" r="3.00" fill="#8a2c96"/>
<circle cx="415.02" cy="581.95" r="3.00" fill="#8a2c96"/>
<circle cx="426.16" cy="582.85" r="3.00" fill="#8a2c96"/>
<circle cx="436.88" cy="579.46" r="3.00" fill="#8a2c96"/>
<circle cx="448.02" cy="581.27" r="3.00" fill="#8a2c96"/>
<text transform="translate(294.70,571.90) rotate(-90)" font-size="12.8" text-anchor="middle">ECAR (mpH/min)</text>
<text x="392.50" y="679.00" font-size="12.8" text-anchor="middle" >Time (min)</text>
<text x="273.20" y="489.75" font-size="16" text-anchor="start" >F</text>
<line x1="468.00" y1="520.80" x2="484.50" y2="520.80" stroke="#8a2c96" stroke-width="1.6" />
<circle cx="476.25" cy="520.80" r="2.80" fill="#8a2c96"/>
<text x="508.00" y="521.20" font-size="11" text-anchor="middle" >Medium</text>
<text x="506.35" y="534.25" font-size="11" text-anchor="middle" >(Ctrl)</text>
<line x1="468.00" y1="555.20" x2="484.50" y2="555.20" stroke="#000000" stroke-width="1.6" />
<rect x="473.45" y="552.40" width="5.60" height="5.60" fill="#000000"/>
<text x="508.00" y="555.20" font-size="11" text-anchor="middle" >Acetate</text>
<text x="503.95" y="568.75" font-size="11" text-anchor="middle" >(Ctrl)</text>
<line x1="468.00" y1="588.70" x2="484.50" y2="588.70" stroke="#465cb0" stroke-width="1.6" />
<path d="M476.25,585.76L479.33,591.08L473.17,591.08Z" fill="#465cb0"/>
<text x="510.20" y="588.70" font-size="11" text-anchor="middle" >Medium</text>
<text x="516.20" y="601.95" font-size="11" text-anchor="middle" >(50&#956;M ETO)</text>
<line x1="468.00" y1="623.70" x2="484.50" y2="623.70" stroke="#178c55" stroke-width="1.6" />
<path d="M476.25,626.64L479.33,621.32L473.17,621.32Z" fill="#178c55"/>
<text x="510.75" y="621.50" font-size="11" text-anchor="middle" >Acetate</text>
<text x="517.95" y="635.35" font-size="11" text-anchor="middle" >(50&#956;M ETO)</text>
</svg></body></html>
